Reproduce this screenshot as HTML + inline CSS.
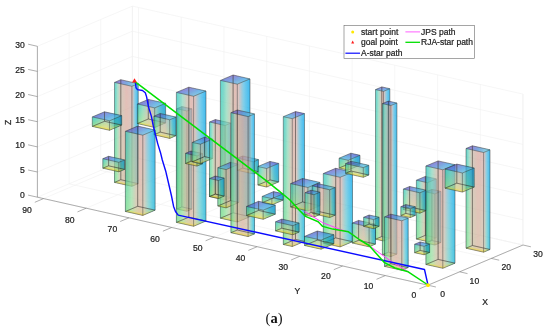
<!DOCTYPE html>
<html><head><meta charset="utf-8"><title>Figure (a)</title>
<style>
html,body{margin:0;padding:0;background:#fff;}
body{width:550px;height:330px;overflow:hidden;}
svg{display:block;font-family:"Liberation Sans",sans-serif;}
</style></head><body>
<svg width="550" height="330" viewBox="0 0 550 330">
<defs>
<linearGradient id="h0" gradientUnits="userSpaceOnUse" x1="114.5" y1="0.0" x2="138.2" y2="0.0"><stop offset="0.000" stop-color="#5edcd8"/><stop offset="0.133" stop-color="#b4e6d8"/><stop offset="0.218" stop-color="#dad6ca"/><stop offset="0.500" stop-color="#e9c8c3"/><stop offset="0.761" stop-color="#e3cdcc"/><stop offset="0.867" stop-color="#88d6f0"/><stop offset="1.000" stop-color="#34c4f6"/></linearGradient><linearGradient id="v0" gradientUnits="userSpaceOnUse" x1="114.5" y1="0.0" x2="138.2" y2="0.0"><stop offset="0.000" stop-color="#98e8a8"/><stop offset="0.133" stop-color="#c0ecc0"/><stop offset="0.218" stop-color="#dcdac4"/><stop offset="0.500" stop-color="#e6d0c0"/><stop offset="0.761" stop-color="#dedac8"/><stop offset="0.867" stop-color="#9ce0de"/><stop offset="1.000" stop-color="#44d0ea"/></linearGradient><linearGradient id="mg0" gradientUnits="userSpaceOnUse" x1="0.0" y1="83.4" x2="0.0" y2="184.4"><stop offset="0.000" stop-color="#000"/><stop offset="1.000" stop-color="#fff"/></linearGradient><mask id="mk0" maskUnits="userSpaceOnUse" x="113.5" y="78.7" width="25.7" height="108.6"><rect x="113.5" y="78.7" width="25.7" height="108.6" fill="url(#mg0)"/></mask><linearGradient id="t0" gradientUnits="userSpaceOnUse" x1="120.8" y1="79.7" x2="131.9" y2="88.3"><stop offset="0.000" stop-color="#8c7ee4"/><stop offset="0.500" stop-color="#6cb4f0"/><stop offset="1.000" stop-color="#86dcec"/></linearGradient><linearGradient id="b0" gradientUnits="userSpaceOnUse" x1="0.0" y1="186.3" x2="0.0" y2="179.7"><stop offset="0.000" stop-color="#f6e354" stop-opacity="0.95"/><stop offset="0.450" stop-color="#f0e468" stop-opacity="0.6"/><stop offset="1.000" stop-color="#e0e880" stop-opacity="0.08"/></linearGradient>
<linearGradient id="h1" gradientUnits="userSpaceOnUse" x1="92.3" y1="0.0" x2="121.7" y2="0.0"><stop offset="0.000" stop-color="#52d9d1"/><stop offset="0.207" stop-color="#82ded1"/><stop offset="0.340" stop-color="#9ddbd1"/><stop offset="0.500" stop-color="#b0d8d3"/><stop offset="0.627" stop-color="#88d6db"/><stop offset="0.793" stop-color="#3fc1e3"/><stop offset="1.000" stop-color="#1db1e5"/></linearGradient><linearGradient id="v1" gradientUnits="userSpaceOnUse" x1="92.3" y1="0.0" x2="121.7" y2="0.0"><stop offset="0.000" stop-color="#b2e894"/><stop offset="0.207" stop-color="#cdec98"/><stop offset="0.340" stop-color="#e1eaa1"/><stop offset="0.500" stop-color="#e8e7ab"/><stop offset="0.627" stop-color="#b2e0b9"/><stop offset="0.793" stop-color="#57cdc1"/><stop offset="1.000" stop-color="#38c1c5"/></linearGradient><linearGradient id="mg1" gradientUnits="userSpaceOnUse" x1="0.0" y1="117.9" x2="0.0" y2="128.4"><stop offset="0.000" stop-color="#000"/><stop offset="1.000" stop-color="#fff"/></linearGradient><mask id="mk1" maskUnits="userSpaceOnUse" x="91.3" y="110.8" width="31.4" height="20.5"><rect x="91.3" y="110.8" width="31.4" height="20.5" fill="url(#mg1)"/></mask><linearGradient id="t1" gradientUnits="userSpaceOnUse" x1="104.5" y1="111.8" x2="109.5" y2="122.8"><stop offset="0.000" stop-color="#8c7ee4"/><stop offset="0.500" stop-color="#6cb4f0"/><stop offset="1.000" stop-color="#86dcec"/></linearGradient><linearGradient id="b1" gradientUnits="userSpaceOnUse" x1="0.0" y1="130.3" x2="0.0" y2="121.3"><stop offset="0.000" stop-color="#f6e354" stop-opacity="0.95"/><stop offset="0.450" stop-color="#f0e468" stop-opacity="0.6"/><stop offset="1.000" stop-color="#e0e880" stop-opacity="0.08"/></linearGradient>
<linearGradient id="h2" gradientUnits="userSpaceOnUse" x1="102.8" y1="0.0" x2="124.6" y2="0.0"><stop offset="0.000" stop-color="#52d9d1"/><stop offset="0.133" stop-color="#82ded1"/><stop offset="0.218" stop-color="#9ddbd1"/><stop offset="0.500" stop-color="#b0d8d3"/><stop offset="0.761" stop-color="#88d6db"/><stop offset="0.867" stop-color="#3fc1e3"/><stop offset="1.000" stop-color="#1db1e5"/></linearGradient><linearGradient id="v2" gradientUnits="userSpaceOnUse" x1="102.8" y1="0.0" x2="124.6" y2="0.0"><stop offset="0.000" stop-color="#b2e894"/><stop offset="0.133" stop-color="#cdec98"/><stop offset="0.218" stop-color="#e1eaa1"/><stop offset="0.500" stop-color="#e8e7ab"/><stop offset="0.761" stop-color="#b2e0b9"/><stop offset="0.867" stop-color="#57cdc1"/><stop offset="1.000" stop-color="#38c1c5"/></linearGradient><linearGradient id="mg2" gradientUnits="userSpaceOnUse" x1="0.0" y1="159.7" x2="0.0" y2="170.2"><stop offset="0.000" stop-color="#000"/><stop offset="1.000" stop-color="#fff"/></linearGradient><mask id="mk2" maskUnits="userSpaceOnUse" x="101.8" y="155.3" width="23.8" height="17.6"><rect x="101.8" y="155.3" width="23.8" height="17.6" fill="url(#mg2)"/></mask><linearGradient id="t2" gradientUnits="userSpaceOnUse" x1="108.6" y1="156.3" x2="118.8" y2="164.3"><stop offset="0.000" stop-color="#8c7ee4"/><stop offset="0.500" stop-color="#6cb4f0"/><stop offset="1.000" stop-color="#86dcec"/></linearGradient><linearGradient id="b2" gradientUnits="userSpaceOnUse" x1="0.0" y1="171.8" x2="0.0" y2="165.8"><stop offset="0.000" stop-color="#f6e354" stop-opacity="0.95"/><stop offset="0.450" stop-color="#f0e468" stop-opacity="0.6"/><stop offset="1.000" stop-color="#e0e880" stop-opacity="0.08"/></linearGradient>
<linearGradient id="h3" gradientUnits="userSpaceOnUse" x1="137.4" y1="0.0" x2="165.6" y2="0.0"><stop offset="0.000" stop-color="#5adbd5"/><stop offset="0.193" stop-color="#a1e3d5"/><stop offset="0.317" stop-color="#c2d8cd"/><stop offset="0.500" stop-color="#d3cec9"/><stop offset="0.652" stop-color="#a0d3d7"/><stop offset="0.807" stop-color="#52c6e6"/><stop offset="1.000" stop-color="#23b6e9"/></linearGradient><linearGradient id="v3" gradientUnits="userSpaceOnUse" x1="137.4" y1="0.0" x2="165.6" y2="0.0"><stop offset="0.000" stop-color="#a2e8a0"/><stop offset="0.193" stop-color="#c5ecb1"/><stop offset="0.317" stop-color="#dee0b7"/><stop offset="0.500" stop-color="#e7d9b8"/><stop offset="0.652" stop-color="#bddebd"/><stop offset="0.807" stop-color="#69d2c9"/><stop offset="1.000" stop-color="#3bc5cf"/></linearGradient><linearGradient id="mg3" gradientUnits="userSpaceOnUse" x1="0.0" y1="105.0" x2="0.0" y2="125.6"><stop offset="0.000" stop-color="#000"/><stop offset="1.000" stop-color="#fff"/></linearGradient><mask id="mk3" maskUnits="userSpaceOnUse" x="136.4" y="98.4" width="30.2" height="30.1"><rect x="136.4" y="98.4" width="30.2" height="30.1" fill="url(#mg3)"/></mask><linearGradient id="t3" gradientUnits="userSpaceOnUse" x1="148.3" y1="99.4" x2="154.7" y2="109.9"><stop offset="0.000" stop-color="#8c7ee4"/><stop offset="0.500" stop-color="#6cb4f0"/><stop offset="1.000" stop-color="#86dcec"/></linearGradient><linearGradient id="b3" gradientUnits="userSpaceOnUse" x1="0.0" y1="127.5" x2="0.0" y2="119.0"><stop offset="0.000" stop-color="#f6e354" stop-opacity="0.95"/><stop offset="0.450" stop-color="#f0e468" stop-opacity="0.6"/><stop offset="1.000" stop-color="#e0e880" stop-opacity="0.08"/></linearGradient>
<linearGradient id="h4" gradientUnits="userSpaceOnUse" x1="153.9" y1="0.0" x2="176.0" y2="0.0"><stop offset="0.000" stop-color="#59dbd5"/><stop offset="0.143" stop-color="#9ee2d5"/><stop offset="0.234" stop-color="#bfd8cd"/><stop offset="0.500" stop-color="#cfcfca"/><stop offset="0.743" stop-color="#9dd4d8"/><stop offset="0.857" stop-color="#50c6e6"/><stop offset="1.000" stop-color="#22b5e9"/></linearGradient><linearGradient id="v4" gradientUnits="userSpaceOnUse" x1="153.9" y1="0.0" x2="176.0" y2="0.0"><stop offset="0.000" stop-color="#a4e89f"/><stop offset="0.143" stop-color="#c6ecae"/><stop offset="0.234" stop-color="#dee1b4"/><stop offset="0.500" stop-color="#e7dab6"/><stop offset="0.743" stop-color="#bcdebc"/><stop offset="0.857" stop-color="#67d1c8"/><stop offset="1.000" stop-color="#3bc4ce"/></linearGradient><linearGradient id="mg4" gradientUnits="userSpaceOnUse" x1="0.0" y1="117.2" x2="0.0" y2="136.8"><stop offset="0.000" stop-color="#000"/><stop offset="1.000" stop-color="#fff"/></linearGradient><mask id="mk4" maskUnits="userSpaceOnUse" x="152.9" y="112.5" width="24.1" height="26.8"><rect x="152.9" y="112.5" width="24.1" height="26.8" fill="url(#mg4)"/></mask><linearGradient id="t4" gradientUnits="userSpaceOnUse" x1="160.2" y1="113.5" x2="169.7" y2="121.8"><stop offset="0.000" stop-color="#8c7ee4"/><stop offset="0.500" stop-color="#6cb4f0"/><stop offset="1.000" stop-color="#86dcec"/></linearGradient><linearGradient id="b4" gradientUnits="userSpaceOnUse" x1="0.0" y1="138.4" x2="0.0" y2="132.1"><stop offset="0.000" stop-color="#f6e354" stop-opacity="0.95"/><stop offset="0.450" stop-color="#f0e468" stop-opacity="0.6"/><stop offset="1.000" stop-color="#e0e880" stop-opacity="0.08"/></linearGradient>
<linearGradient id="h5" gradientUnits="userSpaceOnUse" x1="125.4" y1="0.0" x2="155.1" y2="0.0"><stop offset="0.000" stop-color="#5edcd8"/><stop offset="0.207" stop-color="#b4e6d8"/><stop offset="0.340" stop-color="#dad6ca"/><stop offset="0.500" stop-color="#e9c8c3"/><stop offset="0.627" stop-color="#e3cdcc"/><stop offset="0.793" stop-color="#88d6f0"/><stop offset="1.000" stop-color="#34c4f6"/></linearGradient><linearGradient id="v5" gradientUnits="userSpaceOnUse" x1="125.4" y1="0.0" x2="155.1" y2="0.0"><stop offset="0.000" stop-color="#98e8a8"/><stop offset="0.207" stop-color="#c0ecc0"/><stop offset="0.340" stop-color="#dcdac4"/><stop offset="0.500" stop-color="#e6d0c0"/><stop offset="0.627" stop-color="#dedac8"/><stop offset="0.793" stop-color="#9ce0de"/><stop offset="1.000" stop-color="#44d0ea"/></linearGradient><linearGradient id="mg5" gradientUnits="userSpaceOnUse" x1="0.0" y1="132.3" x2="0.0" y2="213.5"><stop offset="0.000" stop-color="#000"/><stop offset="1.000" stop-color="#fff"/></linearGradient><mask id="mk5" maskUnits="userSpaceOnUse" x="124.4" y="125.1" width="31.7" height="91.3"><rect x="124.4" y="125.1" width="31.7" height="91.3" fill="url(#mg5)"/></mask><linearGradient id="t5" gradientUnits="userSpaceOnUse" x1="137.7" y1="126.1" x2="142.8" y2="137.2"><stop offset="0.000" stop-color="#8c7ee4"/><stop offset="0.500" stop-color="#6cb4f0"/><stop offset="1.000" stop-color="#86dcec"/></linearGradient><linearGradient id="b5" gradientUnits="userSpaceOnUse" x1="0.0" y1="215.4" x2="0.0" y2="206.3"><stop offset="0.000" stop-color="#f6e354" stop-opacity="0.95"/><stop offset="0.450" stop-color="#f0e468" stop-opacity="0.6"/><stop offset="1.000" stop-color="#e0e880" stop-opacity="0.08"/></linearGradient>
<linearGradient id="h6" gradientUnits="userSpaceOnUse" x1="176.9" y1="0.0" x2="191.9" y2="0.0"><stop offset="0.000" stop-color="#5edcd8"/><stop offset="0.167" stop-color="#b4e6d8"/><stop offset="0.273" stop-color="#dad6ca"/><stop offset="0.500" stop-color="#e9c8c3"/><stop offset="0.700" stop-color="#e3cdcc"/><stop offset="0.833" stop-color="#88d6f0"/><stop offset="1.000" stop-color="#34c4f6"/></linearGradient><linearGradient id="v6" gradientUnits="userSpaceOnUse" x1="176.9" y1="0.0" x2="191.9" y2="0.0"><stop offset="0.000" stop-color="#98e8a8"/><stop offset="0.167" stop-color="#c0ecc0"/><stop offset="0.273" stop-color="#dcdac4"/><stop offset="0.500" stop-color="#e6d0c0"/><stop offset="0.700" stop-color="#dedac8"/><stop offset="0.833" stop-color="#9ce0de"/><stop offset="1.000" stop-color="#44d0ea"/></linearGradient><linearGradient id="mg6" gradientUnits="userSpaceOnUse" x1="0.0" y1="109.7" x2="0.0" y2="211.0"><stop offset="0.000" stop-color="#000"/><stop offset="1.000" stop-color="#fff"/></linearGradient><mask id="mk6" maskUnits="userSpaceOnUse" x="175.9" y="105.6" width="17.0" height="106.7"><rect x="175.9" y="105.6" width="17.0" height="106.7" fill="url(#mg6)"/></mask><linearGradient id="t6" gradientUnits="userSpaceOnUse" x1="181.9" y1="106.6" x2="186.9" y2="113.0"><stop offset="0.000" stop-color="#8c7ee4"/><stop offset="0.500" stop-color="#6cb4f0"/><stop offset="1.000" stop-color="#86dcec"/></linearGradient><linearGradient id="b6" gradientUnits="userSpaceOnUse" x1="0.0" y1="211.3" x2="0.0" y2="206.9"><stop offset="0.000" stop-color="#f6e354" stop-opacity="0.95"/><stop offset="0.450" stop-color="#f0e468" stop-opacity="0.6"/><stop offset="1.000" stop-color="#e0e880" stop-opacity="0.08"/></linearGradient>
<linearGradient id="h7" gradientUnits="userSpaceOnUse" x1="176.4" y1="0.0" x2="206.0" y2="0.0"><stop offset="0.000" stop-color="#5edcd8"/><stop offset="0.209" stop-color="#b4e6d8"/><stop offset="0.344" stop-color="#dad6ca"/><stop offset="0.500" stop-color="#e9c8c3"/><stop offset="0.623" stop-color="#e3cdcc"/><stop offset="0.791" stop-color="#88d6f0"/><stop offset="1.000" stop-color="#34c4f6"/></linearGradient><linearGradient id="v7" gradientUnits="userSpaceOnUse" x1="176.4" y1="0.0" x2="206.0" y2="0.0"><stop offset="0.000" stop-color="#98e8a8"/><stop offset="0.209" stop-color="#c0ecc0"/><stop offset="0.344" stop-color="#dcdac4"/><stop offset="0.500" stop-color="#e6d0c0"/><stop offset="0.623" stop-color="#dedac8"/><stop offset="0.791" stop-color="#9ce0de"/><stop offset="1.000" stop-color="#44d0ea"/></linearGradient><linearGradient id="mg7" gradientUnits="userSpaceOnUse" x1="0.0" y1="93.4" x2="0.0" y2="224.4"><stop offset="0.000" stop-color="#000"/><stop offset="1.000" stop-color="#fff"/></linearGradient><mask id="mk7" maskUnits="userSpaceOnUse" x="175.4" y="86.2" width="31.6" height="141.1"><rect x="175.4" y="86.2" width="31.6" height="141.1" fill="url(#mg7)"/></mask><linearGradient id="t7" gradientUnits="userSpaceOnUse" x1="188.8" y1="87.2" x2="193.6" y2="98.3"><stop offset="0.000" stop-color="#8c7ee4"/><stop offset="0.500" stop-color="#6cb4f0"/><stop offset="1.000" stop-color="#86dcec"/></linearGradient><linearGradient id="b7" gradientUnits="userSpaceOnUse" x1="0.0" y1="226.3" x2="0.0" y2="217.2"><stop offset="0.000" stop-color="#f6e354" stop-opacity="0.95"/><stop offset="0.450" stop-color="#f0e468" stop-opacity="0.6"/><stop offset="1.000" stop-color="#e0e880" stop-opacity="0.08"/></linearGradient>
<linearGradient id="h8" gradientUnits="userSpaceOnUse" x1="185.5" y1="0.0" x2="202.5" y2="0.0"><stop offset="0.000" stop-color="#53d9d2"/><stop offset="0.162" stop-color="#85ded2"/><stop offset="0.265" stop-color="#a0dbd0"/><stop offset="0.500" stop-color="#b2d8d2"/><stop offset="0.709" stop-color="#89d6db"/><stop offset="0.838" stop-color="#40c1e3"/><stop offset="1.000" stop-color="#1db1e5"/></linearGradient><linearGradient id="v8" gradientUnits="userSpaceOnUse" x1="185.5" y1="0.0" x2="202.5" y2="0.0"><stop offset="0.000" stop-color="#b1e895"/><stop offset="0.162" stop-color="#cdec9a"/><stop offset="0.265" stop-color="#e1eaa3"/><stop offset="0.500" stop-color="#e8e6ab"/><stop offset="0.709" stop-color="#b3e0b9"/><stop offset="0.838" stop-color="#58cdc2"/><stop offset="1.000" stop-color="#39c1c6"/></linearGradient><linearGradient id="mg8" gradientUnits="userSpaceOnUse" x1="0.0" y1="154.3" x2="0.0" y2="165.5"><stop offset="0.000" stop-color="#000"/><stop offset="1.000" stop-color="#fff"/></linearGradient><mask id="mk8" maskUnits="userSpaceOnUse" x="184.5" y="150.0" width="19.0" height="17.1"><rect x="184.5" y="150.0" width="19.0" height="17.1" fill="url(#mg8)"/></mask><linearGradient id="t8" gradientUnits="userSpaceOnUse" x1="191.0" y1="151.0" x2="197.0" y2="157.9"><stop offset="0.000" stop-color="#8c7ee4"/><stop offset="0.500" stop-color="#6cb4f0"/><stop offset="1.000" stop-color="#86dcec"/></linearGradient><linearGradient id="b8" gradientUnits="userSpaceOnUse" x1="0.0" y1="166.1" x2="0.0" y2="161.2"><stop offset="0.000" stop-color="#f6e354" stop-opacity="0.95"/><stop offset="0.450" stop-color="#f0e468" stop-opacity="0.6"/><stop offset="1.000" stop-color="#e0e880" stop-opacity="0.08"/></linearGradient>
<linearGradient id="h9" gradientUnits="userSpaceOnUse" x1="192.2" y1="0.0" x2="212.7" y2="0.0"><stop offset="0.000" stop-color="#59dbd5"/><stop offset="0.200" stop-color="#a0e3d5"/><stop offset="0.328" stop-color="#c2d8cd"/><stop offset="0.500" stop-color="#d2cfc9"/><stop offset="0.640" stop-color="#9fd3d7"/><stop offset="0.800" stop-color="#52c6e6"/><stop offset="1.000" stop-color="#23b6e9"/></linearGradient><linearGradient id="v9" gradientUnits="userSpaceOnUse" x1="192.2" y1="0.0" x2="212.7" y2="0.0"><stop offset="0.000" stop-color="#a3e8a0"/><stop offset="0.200" stop-color="#c5ecb0"/><stop offset="0.328" stop-color="#dee1b6"/><stop offset="0.500" stop-color="#e7d9b7"/><stop offset="0.640" stop-color="#bddebd"/><stop offset="0.800" stop-color="#69d2c9"/><stop offset="1.000" stop-color="#3bc5cf"/></linearGradient><linearGradient id="mg9" gradientUnits="userSpaceOnUse" x1="0.0" y1="143.4" x2="0.0" y2="163.8"><stop offset="0.000" stop-color="#000"/><stop offset="1.000" stop-color="#fff"/></linearGradient><mask id="mk9" maskUnits="userSpaceOnUse" x="191.2" y="136.2" width="22.5" height="28.4"><rect x="191.2" y="136.2" width="22.5" height="28.4" fill="url(#mg9)"/></mask><linearGradient id="t9" gradientUnits="userSpaceOnUse" x1="204.5" y1="137.2" x2="200.4" y2="146.2"><stop offset="0.000" stop-color="#8c7ee4"/><stop offset="0.500" stop-color="#6cb4f0"/><stop offset="1.000" stop-color="#86dcec"/></linearGradient><linearGradient id="b9" gradientUnits="userSpaceOnUse" x1="0.0" y1="163.6" x2="0.0" y2="156.6"><stop offset="0.000" stop-color="#f6e354" stop-opacity="0.95"/><stop offset="0.450" stop-color="#f0e468" stop-opacity="0.6"/><stop offset="1.000" stop-color="#e0e880" stop-opacity="0.08"/></linearGradient>
<linearGradient id="h10" gradientUnits="userSpaceOnUse" x1="209.5" y1="0.0" x2="230.9" y2="0.0"><stop offset="0.000" stop-color="#5edcd8"/><stop offset="0.136" stop-color="#b4e6d8"/><stop offset="0.222" stop-color="#dad6ca"/><stop offset="0.500" stop-color="#e9c8c3"/><stop offset="0.756" stop-color="#e3cdcc"/><stop offset="0.864" stop-color="#88d6f0"/><stop offset="1.000" stop-color="#34c4f6"/></linearGradient><linearGradient id="v10" gradientUnits="userSpaceOnUse" x1="209.5" y1="0.0" x2="230.9" y2="0.0"><stop offset="0.000" stop-color="#98e8a8"/><stop offset="0.136" stop-color="#c0ecc0"/><stop offset="0.222" stop-color="#dcdac4"/><stop offset="0.500" stop-color="#e6d0c0"/><stop offset="0.756" stop-color="#dedac8"/><stop offset="0.864" stop-color="#9ce0de"/><stop offset="1.000" stop-color="#44d0ea"/></linearGradient><linearGradient id="mg10" gradientUnits="userSpaceOnUse" x1="0.0" y1="123.0" x2="0.0" y2="198.5"><stop offset="0.000" stop-color="#000"/><stop offset="1.000" stop-color="#fff"/></linearGradient><mask id="mk10" maskUnits="userSpaceOnUse" x="208.5" y="118.6" width="23.4" height="82.5"><rect x="208.5" y="118.6" width="23.4" height="82.5" fill="url(#mg10)"/></mask><linearGradient id="t10" gradientUnits="userSpaceOnUse" x1="215.3" y1="119.6" x2="225.1" y2="127.5"><stop offset="0.000" stop-color="#8c7ee4"/><stop offset="0.500" stop-color="#6cb4f0"/><stop offset="1.000" stop-color="#86dcec"/></linearGradient><linearGradient id="b10" gradientUnits="userSpaceOnUse" x1="0.0" y1="200.0" x2="0.0" y2="194.1"><stop offset="0.000" stop-color="#f6e354" stop-opacity="0.95"/><stop offset="0.450" stop-color="#f0e468" stop-opacity="0.6"/><stop offset="1.000" stop-color="#e0e880" stop-opacity="0.08"/></linearGradient>
<linearGradient id="h11" gradientUnits="userSpaceOnUse" x1="220.4" y1="0.0" x2="250.0" y2="0.0"><stop offset="0.000" stop-color="#5edcd8"/><stop offset="0.215" stop-color="#b4e6d8"/><stop offset="0.352" stop-color="#dad6ca"/><stop offset="0.500" stop-color="#e9c8c3"/><stop offset="0.614" stop-color="#e3cdcc"/><stop offset="0.785" stop-color="#88d6f0"/><stop offset="1.000" stop-color="#34c4f6"/></linearGradient><linearGradient id="v11" gradientUnits="userSpaceOnUse" x1="220.4" y1="0.0" x2="250.0" y2="0.0"><stop offset="0.000" stop-color="#98e8a8"/><stop offset="0.215" stop-color="#c0ecc0"/><stop offset="0.352" stop-color="#dcdac4"/><stop offset="0.500" stop-color="#e6d0c0"/><stop offset="0.614" stop-color="#dedac8"/><stop offset="0.785" stop-color="#9ce0de"/><stop offset="1.000" stop-color="#44d0ea"/></linearGradient><linearGradient id="mg11" gradientUnits="userSpaceOnUse" x1="0.0" y1="81.4" x2="0.0" y2="220.2"><stop offset="0.000" stop-color="#000"/><stop offset="1.000" stop-color="#fff"/></linearGradient><mask id="mk11" maskUnits="userSpaceOnUse" x="219.4" y="74.0" width="31.6" height="149.0"><rect x="219.4" y="74.0" width="31.6" height="149.0" fill="url(#mg11)"/></mask><linearGradient id="t11" gradientUnits="userSpaceOnUse" x1="233.1" y1="75.0" x2="237.3" y2="86.2"><stop offset="0.000" stop-color="#8c7ee4"/><stop offset="0.500" stop-color="#6cb4f0"/><stop offset="1.000" stop-color="#86dcec"/></linearGradient><linearGradient id="b11" gradientUnits="userSpaceOnUse" x1="0.0" y1="222.0" x2="0.0" y2="212.8"><stop offset="0.000" stop-color="#f6e354" stop-opacity="0.95"/><stop offset="0.450" stop-color="#f0e468" stop-opacity="0.6"/><stop offset="1.000" stop-color="#e0e880" stop-opacity="0.08"/></linearGradient>
<linearGradient id="h12" gradientUnits="userSpaceOnUse" x1="217.8" y1="0.0" x2="238.8" y2="0.0"><stop offset="0.000" stop-color="#5edcd8"/><stop offset="0.198" stop-color="#b4e6d8"/><stop offset="0.324" stop-color="#dad6ca"/><stop offset="0.500" stop-color="#e9c8c3"/><stop offset="0.644" stop-color="#cccfd0"/><stop offset="0.802" stop-color="#76d1ed"/><stop offset="1.000" stop-color="#2ebff2"/></linearGradient><linearGradient id="v12" gradientUnits="userSpaceOnUse" x1="217.8" y1="0.0" x2="238.8" y2="0.0"><stop offset="0.000" stop-color="#98e8a8"/><stop offset="0.198" stop-color="#c0ecc0"/><stop offset="0.324" stop-color="#dcdac4"/><stop offset="0.500" stop-color="#e6d0c0"/><stop offset="0.644" stop-color="#d3dbc4"/><stop offset="0.802" stop-color="#8bdbd7"/><stop offset="1.000" stop-color="#41cce1"/></linearGradient><linearGradient id="mg12" gradientUnits="userSpaceOnUse" x1="0.0" y1="168.7" x2="0.0" y2="208.0"><stop offset="0.000" stop-color="#000"/><stop offset="1.000" stop-color="#fff"/></linearGradient><mask id="mk12" maskUnits="userSpaceOnUse" x="216.8" y="161.3" width="23.0" height="47.5"><rect x="216.8" y="161.3" width="23.0" height="47.5" fill="url(#mg12)"/></mask><linearGradient id="t12" gradientUnits="userSpaceOnUse" x1="230.5" y1="162.3" x2="226.1" y2="171.6"><stop offset="0.000" stop-color="#8c7ee4"/><stop offset="0.500" stop-color="#6cb4f0"/><stop offset="1.000" stop-color="#86dcec"/></linearGradient><linearGradient id="b12" gradientUnits="userSpaceOnUse" x1="0.0" y1="207.9" x2="0.0" y2="200.6"><stop offset="0.000" stop-color="#f6e354" stop-opacity="0.95"/><stop offset="0.450" stop-color="#f0e468" stop-opacity="0.6"/><stop offset="1.000" stop-color="#e0e880" stop-opacity="0.08"/></linearGradient>
<linearGradient id="h13" gradientUnits="userSpaceOnUse" x1="209.5" y1="0.0" x2="224.2" y2="0.0"><stop offset="0.000" stop-color="#58dad5"/><stop offset="0.197" stop-color="#9ce2d5"/><stop offset="0.324" stop-color="#bcd8cd"/><stop offset="0.500" stop-color="#cdd0cb"/><stop offset="0.645" stop-color="#9cd4d8"/><stop offset="0.803" stop-color="#4fc6e6"/><stop offset="1.000" stop-color="#22b5e8"/></linearGradient><linearGradient id="v13" gradientUnits="userSpaceOnUse" x1="209.5" y1="0.0" x2="224.2" y2="0.0"><stop offset="0.000" stop-color="#a5e89e"/><stop offset="0.197" stop-color="#c6ecad"/><stop offset="0.324" stop-color="#dee2b3"/><stop offset="0.500" stop-color="#e7dbb6"/><stop offset="0.645" stop-color="#bcdebc"/><stop offset="0.803" stop-color="#66d1c8"/><stop offset="1.000" stop-color="#3bc4ce"/></linearGradient><linearGradient id="mg13" gradientUnits="userSpaceOnUse" x1="0.0" y1="179.5" x2="0.0" y2="198.5"><stop offset="0.000" stop-color="#000"/><stop offset="1.000" stop-color="#fff"/></linearGradient><mask id="mk13" maskUnits="userSpaceOnUse" x="208.5" y="175.1" width="16.7" height="24.5"><rect x="208.5" y="175.1" width="16.7" height="24.5" fill="url(#mg13)"/></mask><linearGradient id="t13" gradientUnits="userSpaceOnUse" x1="215.3" y1="176.1" x2="218.4" y2="182.5"><stop offset="0.000" stop-color="#8c7ee4"/><stop offset="0.500" stop-color="#6cb4f0"/><stop offset="1.000" stop-color="#86dcec"/></linearGradient><linearGradient id="b13" gradientUnits="userSpaceOnUse" x1="0.0" y1="198.5" x2="0.0" y2="194.1"><stop offset="0.000" stop-color="#f6e354" stop-opacity="0.95"/><stop offset="0.450" stop-color="#f0e468" stop-opacity="0.6"/><stop offset="1.000" stop-color="#e0e880" stop-opacity="0.08"/></linearGradient>
<linearGradient id="h14" gradientUnits="userSpaceOnUse" x1="237.5" y1="0.0" x2="258.5" y2="0.0"><stop offset="0.000" stop-color="#54d9d2"/><stop offset="0.124" stop-color="#8adfd2"/><stop offset="0.203" stop-color="#a7dad0"/><stop offset="0.500" stop-color="#b9d6d0"/><stop offset="0.777" stop-color="#8ed5da"/><stop offset="0.876" stop-color="#44c2e3"/><stop offset="1.000" stop-color="#1eb2e6"/></linearGradient><linearGradient id="v14" gradientUnits="userSpaceOnUse" x1="237.5" y1="0.0" x2="258.5" y2="0.0"><stop offset="0.000" stop-color="#aee897"/><stop offset="0.124" stop-color="#cbec9f"/><stop offset="0.203" stop-color="#e0e8a7"/><stop offset="0.500" stop-color="#e7e3ae"/><stop offset="0.777" stop-color="#b5dfba"/><stop offset="0.876" stop-color="#5bcec3"/><stop offset="1.000" stop-color="#39c2c8"/></linearGradient><linearGradient id="mg14" gradientUnits="userSpaceOnUse" x1="0.0" y1="159.2" x2="0.0" y2="172.3"><stop offset="0.000" stop-color="#000"/><stop offset="1.000" stop-color="#fff"/></linearGradient><mask id="mk14" maskUnits="userSpaceOnUse" x="236.5" y="155.0" width="23.0" height="19.9"><rect x="236.5" y="155.0" width="23.0" height="19.9" fill="url(#mg14)"/></mask><linearGradient id="t14" gradientUnits="userSpaceOnUse" x1="242.7" y1="156.0" x2="253.3" y2="163.8"><stop offset="0.000" stop-color="#8c7ee4"/><stop offset="0.500" stop-color="#6cb4f0"/><stop offset="1.000" stop-color="#86dcec"/></linearGradient><linearGradient id="b14" gradientUnits="userSpaceOnUse" x1="0.0" y1="173.9" x2="0.0" y2="168.1"><stop offset="0.000" stop-color="#f6e354" stop-opacity="0.95"/><stop offset="0.450" stop-color="#f0e468" stop-opacity="0.6"/><stop offset="1.000" stop-color="#e0e880" stop-opacity="0.08"/></linearGradient>
<linearGradient id="h15" gradientUnits="userSpaceOnUse" x1="230.9" y1="0.0" x2="254.5" y2="0.0"><stop offset="0.000" stop-color="#5edcd8"/><stop offset="0.136" stop-color="#b4e6d8"/><stop offset="0.222" stop-color="#dad6ca"/><stop offset="0.500" stop-color="#e9c8c3"/><stop offset="0.756" stop-color="#e3cdcc"/><stop offset="0.864" stop-color="#88d6f0"/><stop offset="1.000" stop-color="#34c4f6"/></linearGradient><linearGradient id="v15" gradientUnits="userSpaceOnUse" x1="230.9" y1="0.0" x2="254.5" y2="0.0"><stop offset="0.000" stop-color="#98e8a8"/><stop offset="0.136" stop-color="#c0ecc0"/><stop offset="0.222" stop-color="#dcdac4"/><stop offset="0.500" stop-color="#e6d0c0"/><stop offset="0.756" stop-color="#dedac8"/><stop offset="0.864" stop-color="#9ce0de"/><stop offset="1.000" stop-color="#44d0ea"/></linearGradient><linearGradient id="mg15" gradientUnits="userSpaceOnUse" x1="0.0" y1="113.7" x2="0.0" y2="234.7"><stop offset="0.000" stop-color="#000"/><stop offset="1.000" stop-color="#fff"/></linearGradient><mask id="mk15" maskUnits="userSpaceOnUse" x="229.9" y="109.0" width="25.6" height="128.6"><rect x="229.9" y="109.0" width="25.6" height="128.6" fill="url(#mg15)"/></mask><linearGradient id="t15" gradientUnits="userSpaceOnUse" x1="237.3" y1="110.0" x2="248.1" y2="118.6"><stop offset="0.000" stop-color="#8c7ee4"/><stop offset="0.500" stop-color="#6cb4f0"/><stop offset="1.000" stop-color="#86dcec"/></linearGradient><linearGradient id="b15" gradientUnits="userSpaceOnUse" x1="0.0" y1="236.6" x2="0.0" y2="230.0"><stop offset="0.000" stop-color="#f6e354" stop-opacity="0.95"/><stop offset="0.450" stop-color="#f0e468" stop-opacity="0.6"/><stop offset="1.000" stop-color="#e0e880" stop-opacity="0.08"/></linearGradient>
<linearGradient id="h16" gradientUnits="userSpaceOnUse" x1="257.9" y1="0.0" x2="278.7" y2="0.0"><stop offset="0.000" stop-color="#59dad5"/><stop offset="0.209" stop-color="#9ee2d5"/><stop offset="0.343" stop-color="#bed8cd"/><stop offset="0.500" stop-color="#cfd0ca"/><stop offset="0.624" stop-color="#9dd4d8"/><stop offset="0.791" stop-color="#50c6e6"/><stop offset="1.000" stop-color="#22b5e9"/></linearGradient><linearGradient id="v16" gradientUnits="userSpaceOnUse" x1="257.9" y1="0.0" x2="278.7" y2="0.0"><stop offset="0.000" stop-color="#a4e89f"/><stop offset="0.209" stop-color="#c6ecae"/><stop offset="0.343" stop-color="#dee2b4"/><stop offset="0.500" stop-color="#e7dab6"/><stop offset="0.624" stop-color="#bcdebc"/><stop offset="0.791" stop-color="#67d1c8"/><stop offset="1.000" stop-color="#3bc4ce"/></linearGradient><linearGradient id="mg16" gradientUnits="userSpaceOnUse" x1="0.0" y1="167.5" x2="0.0" y2="187.0"><stop offset="0.000" stop-color="#000"/><stop offset="1.000" stop-color="#fff"/></linearGradient><mask id="mk16" maskUnits="userSpaceOnUse" x="256.9" y="160.4" width="22.8" height="27.6"><rect x="256.9" y="160.4" width="22.8" height="27.6" fill="url(#mg16)"/></mask><linearGradient id="t16" gradientUnits="userSpaceOnUse" x1="270.0" y1="161.4" x2="266.6" y2="170.5"><stop offset="0.000" stop-color="#8c7ee4"/><stop offset="0.500" stop-color="#6cb4f0"/><stop offset="1.000" stop-color="#86dcec"/></linearGradient><linearGradient id="b16" gradientUnits="userSpaceOnUse" x1="0.0" y1="187.0" x2="0.0" y2="179.9"><stop offset="0.000" stop-color="#f6e354" stop-opacity="0.95"/><stop offset="0.450" stop-color="#f0e468" stop-opacity="0.6"/><stop offset="1.000" stop-color="#e0e880" stop-opacity="0.08"/></linearGradient>
<linearGradient id="h17" gradientUnits="userSpaceOnUse" x1="262.2" y1="0.0" x2="283.3" y2="0.0"><stop offset="0.000" stop-color="#50d8d0"/><stop offset="0.230" stop-color="#79dcd0"/><stop offset="0.377" stop-color="#91dcd2"/><stop offset="0.500" stop-color="#a5dcd6"/><stop offset="0.586" stop-color="#84d6dc"/><stop offset="0.770" stop-color="#3cc0e2"/><stop offset="1.000" stop-color="#1cb0e4"/></linearGradient><linearGradient id="v17" gradientUnits="userSpaceOnUse" x1="262.2" y1="0.0" x2="283.3" y2="0.0"><stop offset="0.000" stop-color="#b8e890"/><stop offset="0.230" stop-color="#d0ec91"/><stop offset="0.377" stop-color="#e2ee9b"/><stop offset="0.500" stop-color="#e8eca6"/><stop offset="0.586" stop-color="#b0e0b8"/><stop offset="0.770" stop-color="#54ccc0"/><stop offset="1.000" stop-color="#38c0c4"/></linearGradient><linearGradient id="mg17" gradientUnits="userSpaceOnUse" x1="0.0" y1="197.4" x2="0.0" y2="204.7"><stop offset="0.000" stop-color="#000"/><stop offset="1.000" stop-color="#fff"/></linearGradient><mask id="mk17" maskUnits="userSpaceOnUse" x="261.2" y="190.6" width="23.1" height="15.3"><rect x="261.2" y="190.6" width="23.1" height="15.3" fill="url(#mg17)"/></mask><linearGradient id="t17" gradientUnits="userSpaceOnUse" x1="273.6" y1="191.6" x2="271.9" y2="200.6"><stop offset="0.000" stop-color="#8c7ee4"/><stop offset="0.500" stop-color="#6cb4f0"/><stop offset="1.000" stop-color="#86dcec"/></linearGradient><linearGradient id="b17" gradientUnits="userSpaceOnUse" x1="0.0" y1="204.9" x2="0.0" y2="197.9"><stop offset="0.000" stop-color="#f6e354" stop-opacity="0.95"/><stop offset="0.450" stop-color="#f0e468" stop-opacity="0.6"/><stop offset="1.000" stop-color="#e0e880" stop-opacity="0.08"/></linearGradient>
<linearGradient id="h18" gradientUnits="userSpaceOnUse" x1="246.5" y1="0.0" x2="275.3" y2="0.0"><stop offset="0.000" stop-color="#52d9d1"/><stop offset="0.210" stop-color="#81ded1"/><stop offset="0.345" stop-color="#9bdbd1"/><stop offset="0.500" stop-color="#afd9d3"/><stop offset="0.622" stop-color="#87d6dc"/><stop offset="0.790" stop-color="#3ec1e2"/><stop offset="1.000" stop-color="#1db1e4"/></linearGradient><linearGradient id="v18" gradientUnits="userSpaceOnUse" x1="246.5" y1="0.0" x2="275.3" y2="0.0"><stop offset="0.000" stop-color="#b3e894"/><stop offset="0.210" stop-color="#ceec97"/><stop offset="0.345" stop-color="#e1eba1"/><stop offset="0.500" stop-color="#e8e8aa"/><stop offset="0.622" stop-color="#b1e0b8"/><stop offset="0.790" stop-color="#56cdc1"/><stop offset="1.000" stop-color="#38c0c5"/></linearGradient><linearGradient id="mg18" gradientUnits="userSpaceOnUse" x1="0.0" y1="207.4" x2="0.0" y2="217.5"><stop offset="0.000" stop-color="#000"/><stop offset="1.000" stop-color="#fff"/></linearGradient><mask id="mk18" maskUnits="userSpaceOnUse" x="245.5" y="200.3" width="30.8" height="20.0"><rect x="245.5" y="200.3" width="30.8" height="20.0" fill="url(#mg18)"/></mask><linearGradient id="t18" gradientUnits="userSpaceOnUse" x1="258.6" y1="201.3" x2="263.2" y2="212.2"><stop offset="0.000" stop-color="#8c7ee4"/><stop offset="0.500" stop-color="#6cb4f0"/><stop offset="1.000" stop-color="#86dcec"/></linearGradient><linearGradient id="b18" gradientUnits="userSpaceOnUse" x1="0.0" y1="219.3" x2="0.0" y2="210.4"><stop offset="0.000" stop-color="#f6e354" stop-opacity="0.95"/><stop offset="0.450" stop-color="#f0e468" stop-opacity="0.6"/><stop offset="1.000" stop-color="#e0e880" stop-opacity="0.08"/></linearGradient>
<linearGradient id="h19" gradientUnits="userSpaceOnUse" x1="283.3" y1="0.0" x2="304.5" y2="0.0"><stop offset="0.000" stop-color="#5edcd8"/><stop offset="0.212" stop-color="#b4e6d8"/><stop offset="0.348" stop-color="#dad6ca"/><stop offset="0.500" stop-color="#e9c8c3"/><stop offset="0.618" stop-color="#e3cdcc"/><stop offset="0.788" stop-color="#88d6f0"/><stop offset="1.000" stop-color="#34c4f6"/></linearGradient><linearGradient id="v19" gradientUnits="userSpaceOnUse" x1="283.3" y1="0.0" x2="304.5" y2="0.0"><stop offset="0.000" stop-color="#98e8a8"/><stop offset="0.212" stop-color="#c0ecc0"/><stop offset="0.348" stop-color="#dcdac4"/><stop offset="0.500" stop-color="#e6d0c0"/><stop offset="0.618" stop-color="#dedac8"/><stop offset="0.788" stop-color="#9ce0de"/><stop offset="1.000" stop-color="#44d0ea"/></linearGradient><linearGradient id="mg19" gradientUnits="userSpaceOnUse" x1="0.0" y1="117.7" x2="0.0" y2="246.5"><stop offset="0.000" stop-color="#000"/><stop offset="1.000" stop-color="#fff"/></linearGradient><mask id="mk19" maskUnits="userSpaceOnUse" x="282.3" y="110.6" width="23.2" height="137.0"><rect x="282.3" y="110.6" width="23.2" height="137.0" fill="url(#mg19)"/></mask><linearGradient id="t19" gradientUnits="userSpaceOnUse" x1="295.5" y1="111.6" x2="292.3" y2="120.7"><stop offset="0.000" stop-color="#8c7ee4"/><stop offset="0.500" stop-color="#6cb4f0"/><stop offset="1.000" stop-color="#86dcec"/></linearGradient><linearGradient id="b19" gradientUnits="userSpaceOnUse" x1="0.0" y1="246.5" x2="0.0" y2="239.4"><stop offset="0.000" stop-color="#f6e354" stop-opacity="0.95"/><stop offset="0.450" stop-color="#f0e468" stop-opacity="0.6"/><stop offset="1.000" stop-color="#e0e880" stop-opacity="0.08"/></linearGradient>
<linearGradient id="h20" gradientUnits="userSpaceOnUse" x1="275.5" y1="0.0" x2="299.1" y2="0.0"><stop offset="0.000" stop-color="#52d9d1"/><stop offset="0.133" stop-color="#81ded1"/><stop offset="0.219" stop-color="#9bdbd1"/><stop offset="0.500" stop-color="#afd9d3"/><stop offset="0.760" stop-color="#87d6dc"/><stop offset="0.867" stop-color="#3ec1e2"/><stop offset="1.000" stop-color="#1db1e4"/></linearGradient><linearGradient id="v20" gradientUnits="userSpaceOnUse" x1="275.5" y1="0.0" x2="299.1" y2="0.0"><stop offset="0.000" stop-color="#b3e894"/><stop offset="0.133" stop-color="#ceec97"/><stop offset="0.219" stop-color="#e1eba1"/><stop offset="0.500" stop-color="#e8e8aa"/><stop offset="0.760" stop-color="#b1e0b8"/><stop offset="0.867" stop-color="#56cdc1"/><stop offset="1.000" stop-color="#38c0c5"/></linearGradient><linearGradient id="mg20" gradientUnits="userSpaceOnUse" x1="0.0" y1="222.8" x2="0.0" y2="232.9"><stop offset="0.000" stop-color="#000"/><stop offset="1.000" stop-color="#fff"/></linearGradient><mask id="mk20" maskUnits="userSpaceOnUse" x="274.5" y="218.1" width="25.6" height="17.7"><rect x="274.5" y="218.1" width="25.6" height="17.7" fill="url(#mg20)"/></mask><linearGradient id="t20" gradientUnits="userSpaceOnUse" x1="281.8" y1="219.1" x2="292.8" y2="227.7"><stop offset="0.000" stop-color="#8c7ee4"/><stop offset="0.500" stop-color="#6cb4f0"/><stop offset="1.000" stop-color="#86dcec"/></linearGradient><linearGradient id="b20" gradientUnits="userSpaceOnUse" x1="0.0" y1="234.8" x2="0.0" y2="228.2"><stop offset="0.000" stop-color="#f6e354" stop-opacity="0.95"/><stop offset="0.450" stop-color="#f0e468" stop-opacity="0.6"/><stop offset="1.000" stop-color="#e0e880" stop-opacity="0.08"/></linearGradient>
<linearGradient id="h21" gradientUnits="userSpaceOnUse" x1="323.3" y1="0.0" x2="352.5" y2="0.0"><stop offset="0.000" stop-color="#5edcd8"/><stop offset="0.212" stop-color="#b4e6d8"/><stop offset="0.348" stop-color="#dad6ca"/><stop offset="0.500" stop-color="#e9c8c3"/><stop offset="0.618" stop-color="#e3cdcc"/><stop offset="0.788" stop-color="#88d6f0"/><stop offset="1.000" stop-color="#34c4f6"/></linearGradient><linearGradient id="v21" gradientUnits="userSpaceOnUse" x1="323.3" y1="0.0" x2="352.5" y2="0.0"><stop offset="0.000" stop-color="#98e8a8"/><stop offset="0.212" stop-color="#c0ecc0"/><stop offset="0.348" stop-color="#dcdac4"/><stop offset="0.500" stop-color="#e6d0c0"/><stop offset="0.618" stop-color="#dedac8"/><stop offset="0.788" stop-color="#9ce0de"/><stop offset="1.000" stop-color="#44d0ea"/></linearGradient><linearGradient id="mg21" gradientUnits="userSpaceOnUse" x1="0.0" y1="174.5" x2="0.0" y2="245.1"><stop offset="0.000" stop-color="#000"/><stop offset="1.000" stop-color="#fff"/></linearGradient><mask id="mk21" maskUnits="userSpaceOnUse" x="322.3" y="167.3" width="31.2" height="80.6"><rect x="322.3" y="167.3" width="31.2" height="80.6" fill="url(#mg21)"/></mask><linearGradient id="t21" gradientUnits="userSpaceOnUse" x1="335.7" y1="168.3" x2="340.1" y2="179.3"><stop offset="0.000" stop-color="#8c7ee4"/><stop offset="0.500" stop-color="#6cb4f0"/><stop offset="1.000" stop-color="#86dcec"/></linearGradient><linearGradient id="b21" gradientUnits="userSpaceOnUse" x1="0.0" y1="246.9" x2="0.0" y2="237.9"><stop offset="0.000" stop-color="#f6e354" stop-opacity="0.95"/><stop offset="0.450" stop-color="#f0e468" stop-opacity="0.6"/><stop offset="1.000" stop-color="#e0e880" stop-opacity="0.08"/></linearGradient>
<linearGradient id="h22" gradientUnits="userSpaceOnUse" x1="290.6" y1="0.0" x2="319.9" y2="0.0"><stop offset="0.000" stop-color="#5cdbd7"/><stop offset="0.205" stop-color="#ace5d7"/><stop offset="0.336" stop-color="#d0d7cb"/><stop offset="0.500" stop-color="#e0cbc5"/><stop offset="0.631" stop-color="#a9d3d6"/><stop offset="0.795" stop-color="#59c8e7"/><stop offset="1.000" stop-color="#25b8eb"/></linearGradient><linearGradient id="v22" gradientUnits="userSpaceOnUse" x1="290.6" y1="0.0" x2="319.9" y2="0.0"><stop offset="0.000" stop-color="#9ce8a5"/><stop offset="0.205" stop-color="#c2ecba"/><stop offset="0.336" stop-color="#ddddbf"/><stop offset="0.500" stop-color="#e6d4bd"/><stop offset="0.631" stop-color="#c2debe"/><stop offset="0.795" stop-color="#70d4cc"/><stop offset="1.000" stop-color="#3dc6d3"/></linearGradient><linearGradient id="mg22" gradientUnits="userSpaceOnUse" x1="0.0" y1="184.6" x2="0.0" y2="209.0"><stop offset="0.000" stop-color="#000"/><stop offset="1.000" stop-color="#fff"/></linearGradient><mask id="mk22" maskUnits="userSpaceOnUse" x="289.6" y="177.5" width="31.3" height="34.4"><rect x="289.6" y="177.5" width="31.3" height="34.4" fill="url(#mg22)"/></mask><linearGradient id="t22" gradientUnits="userSpaceOnUse" x1="302.6" y1="178.5" x2="307.9" y2="189.5"><stop offset="0.000" stop-color="#8c7ee4"/><stop offset="0.500" stop-color="#6cb4f0"/><stop offset="1.000" stop-color="#86dcec"/></linearGradient><linearGradient id="b22" gradientUnits="userSpaceOnUse" x1="0.0" y1="210.9" x2="0.0" y2="201.9"><stop offset="0.000" stop-color="#f6e354" stop-opacity="0.95"/><stop offset="0.450" stop-color="#f0e468" stop-opacity="0.6"/><stop offset="1.000" stop-color="#e0e880" stop-opacity="0.08"/></linearGradient>
<linearGradient id="h23" gradientUnits="userSpaceOnUse" x1="312.3" y1="0.0" x2="335.2" y2="0.0"><stop offset="0.000" stop-color="#5edcd8"/><stop offset="0.120" stop-color="#b4e6d8"/><stop offset="0.197" stop-color="#dad6ca"/><stop offset="0.500" stop-color="#e9c8c3"/><stop offset="0.784" stop-color="#b3d2d4"/><stop offset="0.880" stop-color="#61cbe9"/><stop offset="1.000" stop-color="#28baed"/></linearGradient><linearGradient id="v23" gradientUnits="userSpaceOnUse" x1="312.3" y1="0.0" x2="335.2" y2="0.0"><stop offset="0.000" stop-color="#98e8a8"/><stop offset="0.120" stop-color="#c0ecc0"/><stop offset="0.197" stop-color="#dcdac4"/><stop offset="0.500" stop-color="#e6d0c0"/><stop offset="0.784" stop-color="#c7ddc0"/><stop offset="0.880" stop-color="#77d6cf"/><stop offset="1.000" stop-color="#3ec8d7"/></linearGradient><linearGradient id="mg23" gradientUnits="userSpaceOnUse" x1="0.0" y1="186.9" x2="0.0" y2="215.6"><stop offset="0.000" stop-color="#000"/><stop offset="1.000" stop-color="#fff"/></linearGradient><mask id="mk23" maskUnits="userSpaceOnUse" x="311.3" y="182.6" width="24.9" height="35.9"><rect x="311.3" y="182.6" width="24.9" height="35.9" fill="url(#mg23)"/></mask><linearGradient id="t23" gradientUnits="userSpaceOnUse" x1="317.8" y1="183.6" x2="329.7" y2="191.8"><stop offset="0.000" stop-color="#8c7ee4"/><stop offset="0.500" stop-color="#6cb4f0"/><stop offset="1.000" stop-color="#86dcec"/></linearGradient><linearGradient id="b23" gradientUnits="userSpaceOnUse" x1="0.0" y1="217.5" x2="0.0" y2="211.3"><stop offset="0.000" stop-color="#f6e354" stop-opacity="0.95"/><stop offset="0.450" stop-color="#f0e468" stop-opacity="0.6"/><stop offset="1.000" stop-color="#e0e880" stop-opacity="0.08"/></linearGradient>
<linearGradient id="h24" gradientUnits="userSpaceOnUse" x1="305.0" y1="0.0" x2="320.0" y2="0.0"><stop offset="0.000" stop-color="#5bdbd7"/><stop offset="0.200" stop-color="#a9e4d7"/><stop offset="0.328" stop-color="#ccd7cb"/><stop offset="0.500" stop-color="#dcccc7"/><stop offset="0.640" stop-color="#a6d3d6"/><stop offset="0.800" stop-color="#57c8e7"/><stop offset="1.000" stop-color="#25b7ea"/></linearGradient><linearGradient id="v24" gradientUnits="userSpaceOnUse" x1="305.0" y1="0.0" x2="320.0" y2="0.0"><stop offset="0.000" stop-color="#9ee8a4"/><stop offset="0.200" stop-color="#c3ecb7"/><stop offset="0.328" stop-color="#dddebc"/><stop offset="0.500" stop-color="#e6d5bb"/><stop offset="0.640" stop-color="#c0debe"/><stop offset="0.800" stop-color="#6ed3cb"/><stop offset="1.000" stop-color="#3cc6d2"/></linearGradient><linearGradient id="mg24" gradientUnits="userSpaceOnUse" x1="0.0" y1="193.7" x2="0.0" y2="217.0"><stop offset="0.000" stop-color="#000"/><stop offset="1.000" stop-color="#fff"/></linearGradient><mask id="mk24" maskUnits="userSpaceOnUse" x="304.0" y="189.2" width="17.0" height="28.9"><rect x="304.0" y="189.2" width="17.0" height="28.9" fill="url(#mg24)"/></mask><linearGradient id="t24" gradientUnits="userSpaceOnUse" x1="311.0" y1="190.2" x2="314.0" y2="196.7"><stop offset="0.000" stop-color="#8c7ee4"/><stop offset="0.500" stop-color="#6cb4f0"/><stop offset="1.000" stop-color="#86dcec"/></linearGradient><linearGradient id="b24" gradientUnits="userSpaceOnUse" x1="0.0" y1="217.0" x2="0.0" y2="212.5"><stop offset="0.000" stop-color="#f6e354" stop-opacity="0.95"/><stop offset="0.450" stop-color="#f0e468" stop-opacity="0.6"/><stop offset="1.000" stop-color="#e0e880" stop-opacity="0.08"/></linearGradient>
<linearGradient id="h25" gradientUnits="userSpaceOnUse" x1="339.1" y1="0.0" x2="360.0" y2="0.0"><stop offset="0.000" stop-color="#53d9d2"/><stop offset="0.218" stop-color="#83ded2"/><stop offset="0.357" stop-color="#9edbd0"/><stop offset="0.500" stop-color="#b1d8d2"/><stop offset="0.608" stop-color="#88d6db"/><stop offset="0.782" stop-color="#3fc1e3"/><stop offset="1.000" stop-color="#1db1e5"/></linearGradient><linearGradient id="v25" gradientUnits="userSpaceOnUse" x1="339.1" y1="0.0" x2="360.0" y2="0.0"><stop offset="0.000" stop-color="#b2e895"/><stop offset="0.218" stop-color="#cdec99"/><stop offset="0.357" stop-color="#e1eaa2"/><stop offset="0.500" stop-color="#e8e7ab"/><stop offset="0.608" stop-color="#b2e0b9"/><stop offset="0.782" stop-color="#57cdc1"/><stop offset="1.000" stop-color="#39c1c6"/></linearGradient><linearGradient id="mg25" gradientUnits="userSpaceOnUse" x1="0.0" y1="159.2" x2="0.0" y2="170.0"><stop offset="0.000" stop-color="#000"/><stop offset="1.000" stop-color="#fff"/></linearGradient><mask id="mk25" maskUnits="userSpaceOnUse" x="338.1" y="152.2" width="22.9" height="18.8"><rect x="338.1" y="152.2" width="22.9" height="18.8" fill="url(#mg25)"/></mask><linearGradient id="t25" gradientUnits="userSpaceOnUse" x1="350.9" y1="153.2" x2="348.2" y2="162.3"><stop offset="0.000" stop-color="#8c7ee4"/><stop offset="0.500" stop-color="#6cb4f0"/><stop offset="1.000" stop-color="#86dcec"/></linearGradient><linearGradient id="b25" gradientUnits="userSpaceOnUse" x1="0.0" y1="170.1" x2="0.0" y2="163.0"><stop offset="0.000" stop-color="#f6e354" stop-opacity="0.95"/><stop offset="0.450" stop-color="#f0e468" stop-opacity="0.6"/><stop offset="1.000" stop-color="#e0e880" stop-opacity="0.08"/></linearGradient>
<linearGradient id="h26" gradientUnits="userSpaceOnUse" x1="345.5" y1="0.0" x2="368.8" y2="0.0"><stop offset="0.000" stop-color="#53d9d1"/><stop offset="0.118" stop-color="#83ded1"/><stop offset="0.194" stop-color="#9edbd1"/><stop offset="0.500" stop-color="#b1d8d2"/><stop offset="0.788" stop-color="#88d6db"/><stop offset="0.882" stop-color="#3fc1e3"/><stop offset="1.000" stop-color="#1db1e5"/></linearGradient><linearGradient id="v26" gradientUnits="userSpaceOnUse" x1="345.5" y1="0.0" x2="368.8" y2="0.0"><stop offset="0.000" stop-color="#b2e894"/><stop offset="0.118" stop-color="#cdec99"/><stop offset="0.194" stop-color="#e1eaa2"/><stop offset="0.500" stop-color="#e8e7ab"/><stop offset="0.788" stop-color="#b2e0b9"/><stop offset="0.882" stop-color="#57cdc1"/><stop offset="1.000" stop-color="#39c1c6"/></linearGradient><linearGradient id="mg26" gradientUnits="userSpaceOnUse" x1="0.0" y1="164.6" x2="0.0" y2="175.3"><stop offset="0.000" stop-color="#000"/><stop offset="1.000" stop-color="#fff"/></linearGradient><mask id="mk26" maskUnits="userSpaceOnUse" x="344.5" y="160.3" width="25.3" height="18.0"><rect x="344.5" y="160.3" width="25.3" height="18.0" fill="url(#mg26)"/></mask><linearGradient id="t26" gradientUnits="userSpaceOnUse" x1="351.0" y1="161.3" x2="363.3" y2="169.6"><stop offset="0.000" stop-color="#8c7ee4"/><stop offset="0.500" stop-color="#6cb4f0"/><stop offset="1.000" stop-color="#86dcec"/></linearGradient><linearGradient id="b26" gradientUnits="userSpaceOnUse" x1="0.0" y1="177.3" x2="0.0" y2="171.0"><stop offset="0.000" stop-color="#f6e354" stop-opacity="0.95"/><stop offset="0.450" stop-color="#f0e468" stop-opacity="0.6"/><stop offset="1.000" stop-color="#e0e880" stop-opacity="0.08"/></linearGradient>
<linearGradient id="h27" gradientUnits="userSpaceOnUse" x1="304.5" y1="0.0" x2="333.9" y2="0.0"><stop offset="0.000" stop-color="#52d9d1"/><stop offset="0.218" stop-color="#81ded1"/><stop offset="0.357" stop-color="#9bdbd1"/><stop offset="0.500" stop-color="#afd9d3"/><stop offset="0.608" stop-color="#87d6dc"/><stop offset="0.782" stop-color="#3ec1e2"/><stop offset="1.000" stop-color="#1db1e4"/></linearGradient><linearGradient id="v27" gradientUnits="userSpaceOnUse" x1="304.5" y1="0.0" x2="333.9" y2="0.0"><stop offset="0.000" stop-color="#b3e894"/><stop offset="0.218" stop-color="#ceec97"/><stop offset="0.357" stop-color="#e1eba1"/><stop offset="0.500" stop-color="#e8e8aa"/><stop offset="0.608" stop-color="#b1e0b8"/><stop offset="0.782" stop-color="#56cdc1"/><stop offset="1.000" stop-color="#38c0c5"/></linearGradient><linearGradient id="mg27" gradientUnits="userSpaceOnUse" x1="0.0" y1="237.4" x2="0.0" y2="247.5"><stop offset="0.000" stop-color="#000"/><stop offset="1.000" stop-color="#fff"/></linearGradient><mask id="mk27" maskUnits="userSpaceOnUse" x="303.5" y="230.0" width="31.4" height="20.2"><rect x="303.5" y="230.0" width="31.4" height="20.2" fill="url(#mg27)"/></mask><linearGradient id="t27" gradientUnits="userSpaceOnUse" x1="317.3" y1="231.0" x2="321.1" y2="242.1"><stop offset="0.000" stop-color="#8c7ee4"/><stop offset="0.500" stop-color="#6cb4f0"/><stop offset="1.000" stop-color="#86dcec"/></linearGradient><linearGradient id="b27" gradientUnits="userSpaceOnUse" x1="0.0" y1="249.2" x2="0.0" y2="240.1"><stop offset="0.000" stop-color="#f6e354" stop-opacity="0.95"/><stop offset="0.450" stop-color="#f0e468" stop-opacity="0.6"/><stop offset="1.000" stop-color="#e0e880" stop-opacity="0.08"/></linearGradient>
<linearGradient id="h28" gradientUnits="userSpaceOnUse" x1="375.5" y1="0.0" x2="389.8" y2="0.0"><stop offset="0.000" stop-color="#5edcd8"/><stop offset="0.220" stop-color="#b4e6d8"/><stop offset="0.361" stop-color="#dad6ca"/><stop offset="0.500" stop-color="#e9c8c3"/><stop offset="0.603" stop-color="#e3cdcc"/><stop offset="0.780" stop-color="#88d6f0"/><stop offset="1.000" stop-color="#34c4f6"/></linearGradient><linearGradient id="v28" gradientUnits="userSpaceOnUse" x1="375.5" y1="0.0" x2="389.8" y2="0.0"><stop offset="0.000" stop-color="#98e8a8"/><stop offset="0.220" stop-color="#c0ecc0"/><stop offset="0.361" stop-color="#dcdac4"/><stop offset="0.500" stop-color="#e6d0c0"/><stop offset="0.603" stop-color="#dedac8"/><stop offset="0.780" stop-color="#9ce0de"/><stop offset="1.000" stop-color="#44d0ea"/></linearGradient><linearGradient id="mg28" gradientUnits="userSpaceOnUse" x1="0.0" y1="90.6" x2="0.0" y2="241.2"><stop offset="0.000" stop-color="#000"/><stop offset="1.000" stop-color="#fff"/></linearGradient><mask id="mk28" maskUnits="userSpaceOnUse" x="374.5" y="85.9" width="16.3" height="156.1"><rect x="374.5" y="85.9" width="16.3" height="156.1" fill="url(#mg28)"/></mask><linearGradient id="t28" gradientUnits="userSpaceOnUse" x1="381.8" y1="86.9" x2="383.5" y2="93.4"><stop offset="0.000" stop-color="#8c7ee4"/><stop offset="0.500" stop-color="#6cb4f0"/><stop offset="1.000" stop-color="#86dcec"/></linearGradient><linearGradient id="b28" gradientUnits="userSpaceOnUse" x1="0.0" y1="241.0" x2="0.0" y2="236.5"><stop offset="0.000" stop-color="#f6e354" stop-opacity="0.95"/><stop offset="0.450" stop-color="#f0e468" stop-opacity="0.6"/><stop offset="1.000" stop-color="#e0e880" stop-opacity="0.08"/></linearGradient>
<linearGradient id="h29" gradientUnits="userSpaceOnUse" x1="382.4" y1="0.0" x2="396.9" y2="0.0"><stop offset="0.000" stop-color="#5edcd8"/><stop offset="0.207" stop-color="#b4e6d8"/><stop offset="0.339" stop-color="#dad6ca"/><stop offset="0.500" stop-color="#e9c8c3"/><stop offset="0.628" stop-color="#e3cdcc"/><stop offset="0.793" stop-color="#88d6f0"/><stop offset="1.000" stop-color="#34c4f6"/></linearGradient><linearGradient id="v29" gradientUnits="userSpaceOnUse" x1="382.4" y1="0.0" x2="396.9" y2="0.0"><stop offset="0.000" stop-color="#98e8a8"/><stop offset="0.207" stop-color="#c0ecc0"/><stop offset="0.339" stop-color="#dcdac4"/><stop offset="0.500" stop-color="#e6d0c0"/><stop offset="0.628" stop-color="#dedac8"/><stop offset="0.793" stop-color="#9ce0de"/><stop offset="1.000" stop-color="#44d0ea"/></linearGradient><linearGradient id="mg29" gradientUnits="userSpaceOnUse" x1="0.0" y1="104.6" x2="0.0" y2="256.7"><stop offset="0.000" stop-color="#000"/><stop offset="1.000" stop-color="#fff"/></linearGradient><mask id="mk29" maskUnits="userSpaceOnUse" x="381.4" y="100.1" width="16.5" height="157.5"><rect x="381.4" y="100.1" width="16.5" height="157.5" fill="url(#mg29)"/></mask><linearGradient id="t29" gradientUnits="userSpaceOnUse" x1="388.4" y1="101.1" x2="390.9" y2="107.5"><stop offset="0.000" stop-color="#8c7ee4"/><stop offset="0.500" stop-color="#6cb4f0"/><stop offset="1.000" stop-color="#86dcec"/></linearGradient><linearGradient id="b29" gradientUnits="userSpaceOnUse" x1="0.0" y1="256.6" x2="0.0" y2="252.2"><stop offset="0.000" stop-color="#f6e354" stop-opacity="0.95"/><stop offset="0.450" stop-color="#f0e468" stop-opacity="0.6"/><stop offset="1.000" stop-color="#e0e880" stop-opacity="0.08"/></linearGradient>
<linearGradient id="h30" gradientUnits="userSpaceOnUse" x1="352.2" y1="0.0" x2="375.5" y2="0.0"><stop offset="0.000" stop-color="#5adbd6"/><stop offset="0.137" stop-color="#a2e3d6"/><stop offset="0.225" stop-color="#c3d8cc"/><stop offset="0.500" stop-color="#d4cec9"/><stop offset="0.753" stop-color="#a0d3d7"/><stop offset="0.863" stop-color="#53c7e6"/><stop offset="1.000" stop-color="#23b6e9"/></linearGradient><linearGradient id="v30" gradientUnits="userSpaceOnUse" x1="352.2" y1="0.0" x2="375.5" y2="0.0"><stop offset="0.000" stop-color="#a2e8a1"/><stop offset="0.137" stop-color="#c5ecb1"/><stop offset="0.225" stop-color="#dee0b7"/><stop offset="0.500" stop-color="#e7d9b8"/><stop offset="0.753" stop-color="#bedebd"/><stop offset="0.863" stop-color="#69d2c9"/><stop offset="1.000" stop-color="#3cc5cf"/></linearGradient><linearGradient id="mg30" gradientUnits="userSpaceOnUse" x1="0.0" y1="224.1" x2="0.0" y2="245.0"><stop offset="0.000" stop-color="#000"/><stop offset="1.000" stop-color="#fff"/></linearGradient><mask id="mk30" maskUnits="userSpaceOnUse" x="351.2" y="219.4" width="25.3" height="28.4"><rect x="351.2" y="219.4" width="25.3" height="28.4" fill="url(#mg30)"/></mask><linearGradient id="t30" gradientUnits="userSpaceOnUse" x1="358.6" y1="220.4" x2="369.1" y2="228.9"><stop offset="0.000" stop-color="#8c7ee4"/><stop offset="0.500" stop-color="#6cb4f0"/><stop offset="1.000" stop-color="#86dcec"/></linearGradient><linearGradient id="b30" gradientUnits="userSpaceOnUse" x1="0.0" y1="246.8" x2="0.0" y2="240.3"><stop offset="0.000" stop-color="#f6e354" stop-opacity="0.95"/><stop offset="0.450" stop-color="#f0e468" stop-opacity="0.6"/><stop offset="1.000" stop-color="#e0e880" stop-opacity="0.08"/></linearGradient>
<linearGradient id="h31" gradientUnits="userSpaceOnUse" x1="363.6" y1="0.0" x2="379.1" y2="0.0"><stop offset="0.000" stop-color="#52d9d1"/><stop offset="0.177" stop-color="#81ded1"/><stop offset="0.291" stop-color="#9bdbd1"/><stop offset="0.500" stop-color="#afd9d3"/><stop offset="0.681" stop-color="#87d6dc"/><stop offset="0.823" stop-color="#3ec1e2"/><stop offset="1.000" stop-color="#1db1e4"/></linearGradient><linearGradient id="v31" gradientUnits="userSpaceOnUse" x1="363.6" y1="0.0" x2="379.1" y2="0.0"><stop offset="0.000" stop-color="#b3e894"/><stop offset="0.177" stop-color="#ceec97"/><stop offset="0.291" stop-color="#e1eba1"/><stop offset="0.500" stop-color="#e8e8aa"/><stop offset="0.681" stop-color="#b1e0b8"/><stop offset="0.823" stop-color="#56cdc1"/><stop offset="1.000" stop-color="#38c0c5"/></linearGradient><linearGradient id="mg31" gradientUnits="userSpaceOnUse" x1="0.0" y1="218.3" x2="0.0" y2="228.4"><stop offset="0.000" stop-color="#000"/><stop offset="1.000" stop-color="#fff"/></linearGradient><mask id="mk31" maskUnits="userSpaceOnUse" x="362.6" y="214.0" width="17.5" height="15.7"><rect x="362.6" y="214.0" width="17.5" height="15.7" fill="url(#mg31)"/></mask><linearGradient id="t31" gradientUnits="userSpaceOnUse" x1="369.1" y1="215.0" x2="373.6" y2="221.6"><stop offset="0.000" stop-color="#8c7ee4"/><stop offset="0.500" stop-color="#6cb4f0"/><stop offset="1.000" stop-color="#86dcec"/></linearGradient><linearGradient id="b31" gradientUnits="userSpaceOnUse" x1="0.0" y1="228.7" x2="0.0" y2="224.1"><stop offset="0.000" stop-color="#f6e354" stop-opacity="0.95"/><stop offset="0.450" stop-color="#f0e468" stop-opacity="0.6"/><stop offset="1.000" stop-color="#e0e880" stop-opacity="0.08"/></linearGradient>
<linearGradient id="h32" gradientUnits="userSpaceOnUse" x1="384.5" y1="0.0" x2="408.2" y2="0.0"><stop offset="0.000" stop-color="#5edcd8"/><stop offset="0.135" stop-color="#b4e6d8"/><stop offset="0.221" stop-color="#dad6ca"/><stop offset="0.500" stop-color="#e9c8c3"/><stop offset="0.757" stop-color="#e3cdcc"/><stop offset="0.865" stop-color="#88d6f0"/><stop offset="1.000" stop-color="#34c4f6"/></linearGradient><linearGradient id="v32" gradientUnits="userSpaceOnUse" x1="384.5" y1="0.0" x2="408.2" y2="0.0"><stop offset="0.000" stop-color="#98e8a8"/><stop offset="0.135" stop-color="#c0ecc0"/><stop offset="0.221" stop-color="#dcdac4"/><stop offset="0.500" stop-color="#e6d0c0"/><stop offset="0.757" stop-color="#dedac8"/><stop offset="0.865" stop-color="#9ce0de"/><stop offset="1.000" stop-color="#44d0ea"/></linearGradient><linearGradient id="mg32" gradientUnits="userSpaceOnUse" x1="0.0" y1="217.9" x2="0.0" y2="268.4"><stop offset="0.000" stop-color="#000"/><stop offset="1.000" stop-color="#fff"/></linearGradient><mask id="mk32" maskUnits="userSpaceOnUse" x="383.5" y="213.2" width="25.7" height="58.1"><rect x="383.5" y="213.2" width="25.7" height="58.1" fill="url(#mg32)"/></mask><linearGradient id="t32" gradientUnits="userSpaceOnUse" x1="390.9" y1="214.2" x2="401.8" y2="222.8"><stop offset="0.000" stop-color="#8c7ee4"/><stop offset="0.500" stop-color="#6cb4f0"/><stop offset="1.000" stop-color="#86dcec"/></linearGradient><linearGradient id="b32" gradientUnits="userSpaceOnUse" x1="0.0" y1="270.3" x2="0.0" y2="263.7"><stop offset="0.000" stop-color="#f6e354" stop-opacity="0.95"/><stop offset="0.450" stop-color="#f0e468" stop-opacity="0.6"/><stop offset="1.000" stop-color="#e0e880" stop-opacity="0.08"/></linearGradient>
<linearGradient id="h33" gradientUnits="userSpaceOnUse" x1="416.4" y1="0.0" x2="436.4" y2="0.0"><stop offset="0.000" stop-color="#5edcd8"/><stop offset="0.225" stop-color="#b4e6d8"/><stop offset="0.369" stop-color="#dad6ca"/><stop offset="0.500" stop-color="#e9c8c3"/><stop offset="0.595" stop-color="#e3cdcc"/><stop offset="0.775" stop-color="#88d6f0"/><stop offset="1.000" stop-color="#34c4f6"/></linearGradient><linearGradient id="v33" gradientUnits="userSpaceOnUse" x1="416.4" y1="0.0" x2="436.4" y2="0.0"><stop offset="0.000" stop-color="#98e8a8"/><stop offset="0.225" stop-color="#c0ecc0"/><stop offset="0.369" stop-color="#dcdac4"/><stop offset="0.500" stop-color="#e6d0c0"/><stop offset="0.595" stop-color="#dedac8"/><stop offset="0.775" stop-color="#9ce0de"/><stop offset="1.000" stop-color="#44d0ea"/></linearGradient><linearGradient id="mg33" gradientUnits="userSpaceOnUse" x1="0.0" y1="181.2" x2="0.0" y2="241.1"><stop offset="0.000" stop-color="#000"/><stop offset="1.000" stop-color="#fff"/></linearGradient><mask id="mk33" maskUnits="userSpaceOnUse" x="415.4" y="175.4" width="22.0" height="67.2"><rect x="415.4" y="175.4" width="22.0" height="67.2" fill="url(#mg33)"/></mask><linearGradient id="t33" gradientUnits="userSpaceOnUse" x1="425.4" y1="176.4" x2="427.4" y2="184.7"><stop offset="0.000" stop-color="#8c7ee4"/><stop offset="0.500" stop-color="#6cb4f0"/><stop offset="1.000" stop-color="#86dcec"/></linearGradient><linearGradient id="b33" gradientUnits="userSpaceOnUse" x1="0.0" y1="241.6" x2="0.0" y2="235.3"><stop offset="0.000" stop-color="#f6e354" stop-opacity="0.95"/><stop offset="0.450" stop-color="#f0e468" stop-opacity="0.6"/><stop offset="1.000" stop-color="#e0e880" stop-opacity="0.08"/></linearGradient>
<linearGradient id="h34" gradientUnits="userSpaceOnUse" x1="425.9" y1="0.0" x2="440.9" y2="0.0"><stop offset="0.000" stop-color="#5edcd8"/><stop offset="0.200" stop-color="#b4e6d8"/><stop offset="0.328" stop-color="#dad6ca"/><stop offset="0.500" stop-color="#e9c8c3"/><stop offset="0.640" stop-color="#e3cdcc"/><stop offset="0.800" stop-color="#88d6f0"/><stop offset="1.000" stop-color="#34c4f6"/></linearGradient><linearGradient id="v34" gradientUnits="userSpaceOnUse" x1="425.9" y1="0.0" x2="440.9" y2="0.0"><stop offset="0.000" stop-color="#98e8a8"/><stop offset="0.200" stop-color="#c0ecc0"/><stop offset="0.328" stop-color="#dcdac4"/><stop offset="0.500" stop-color="#e6d0c0"/><stop offset="0.640" stop-color="#dedac8"/><stop offset="0.800" stop-color="#9ce0de"/><stop offset="1.000" stop-color="#44d0ea"/></linearGradient><linearGradient id="mg34" gradientUnits="userSpaceOnUse" x1="0.0" y1="192.9" x2="0.0" y2="245.0"><stop offset="0.000" stop-color="#000"/><stop offset="1.000" stop-color="#fff"/></linearGradient><mask id="mk34" maskUnits="userSpaceOnUse" x="424.9" y="188.4" width="17.0" height="57.7"><rect x="424.9" y="188.4" width="17.0" height="57.7" fill="url(#mg34)"/></mask><linearGradient id="t34" gradientUnits="userSpaceOnUse" x1="431.9" y1="189.4" x2="434.9" y2="195.9"><stop offset="0.000" stop-color="#8c7ee4"/><stop offset="0.500" stop-color="#6cb4f0"/><stop offset="1.000" stop-color="#86dcec"/></linearGradient><linearGradient id="b34" gradientUnits="userSpaceOnUse" x1="0.0" y1="245.0" x2="0.0" y2="240.5"><stop offset="0.000" stop-color="#f6e354" stop-opacity="0.95"/><stop offset="0.450" stop-color="#f0e468" stop-opacity="0.6"/><stop offset="1.000" stop-color="#e0e880" stop-opacity="0.08"/></linearGradient>
<linearGradient id="h35" gradientUnits="userSpaceOnUse" x1="403.4" y1="0.0" x2="426.1" y2="0.0"><stop offset="0.000" stop-color="#5adbd6"/><stop offset="0.137" stop-color="#a3e3d6"/><stop offset="0.224" stop-color="#c5d8cc"/><stop offset="0.500" stop-color="#d6cec8"/><stop offset="0.754" stop-color="#a1d3d7"/><stop offset="0.863" stop-color="#54c7e6"/><stop offset="1.000" stop-color="#23b6ea"/></linearGradient><linearGradient id="v35" gradientUnits="userSpaceOnUse" x1="403.4" y1="0.0" x2="426.1" y2="0.0"><stop offset="0.000" stop-color="#a1e8a1"/><stop offset="0.137" stop-color="#c4ecb3"/><stop offset="0.224" stop-color="#dee0b8"/><stop offset="0.500" stop-color="#e7d8b9"/><stop offset="0.754" stop-color="#bedebd"/><stop offset="0.863" stop-color="#6ad2c9"/><stop offset="1.000" stop-color="#3cc5d0"/></linearGradient><linearGradient id="mg35" gradientUnits="userSpaceOnUse" x1="0.0" y1="190.1" x2="0.0" y2="211.5"><stop offset="0.000" stop-color="#000"/><stop offset="1.000" stop-color="#fff"/></linearGradient><mask id="mk35" maskUnits="userSpaceOnUse" x="402.4" y="185.5" width="24.7" height="28.7"><rect x="402.4" y="185.5" width="24.7" height="28.7" fill="url(#mg35)"/></mask><linearGradient id="t35" gradientUnits="userSpaceOnUse" x1="409.6" y1="186.5" x2="419.9" y2="194.8"><stop offset="0.000" stop-color="#8c7ee4"/><stop offset="0.500" stop-color="#6cb4f0"/><stop offset="1.000" stop-color="#86dcec"/></linearGradient><linearGradient id="b35" gradientUnits="userSpaceOnUse" x1="0.0" y1="213.2" x2="0.0" y2="206.9"><stop offset="0.000" stop-color="#f6e354" stop-opacity="0.95"/><stop offset="0.450" stop-color="#f0e468" stop-opacity="0.6"/><stop offset="1.000" stop-color="#e0e880" stop-opacity="0.08"/></linearGradient>
<linearGradient id="h36" gradientUnits="userSpaceOnUse" x1="400.8" y1="0.0" x2="415.3" y2="0.0"><stop offset="0.000" stop-color="#52d9d1"/><stop offset="0.172" stop-color="#80ddd1"/><stop offset="0.283" stop-color="#9adbd1"/><stop offset="0.500" stop-color="#aed9d3"/><stop offset="0.690" stop-color="#86d6dc"/><stop offset="0.828" stop-color="#3ec0e2"/><stop offset="1.000" stop-color="#1cb0e4"/></linearGradient><linearGradient id="v36" gradientUnits="userSpaceOnUse" x1="400.8" y1="0.0" x2="415.3" y2="0.0"><stop offset="0.000" stop-color="#b4e893"/><stop offset="0.172" stop-color="#ceec97"/><stop offset="0.283" stop-color="#e1eba0"/><stop offset="0.500" stop-color="#e8e8aa"/><stop offset="0.690" stop-color="#b1e0b8"/><stop offset="0.828" stop-color="#55ccc1"/><stop offset="1.000" stop-color="#38c0c5"/></linearGradient><linearGradient id="mg36" gradientUnits="userSpaceOnUse" x1="0.0" y1="207.7" x2="0.0" y2="217.5"><stop offset="0.000" stop-color="#000"/><stop offset="1.000" stop-color="#fff"/></linearGradient><mask id="mk36" maskUnits="userSpaceOnUse" x="399.8" y="203.6" width="16.5" height="15.0"><rect x="399.8" y="203.6" width="16.5" height="15.0" fill="url(#mg36)"/></mask><linearGradient id="t36" gradientUnits="userSpaceOnUse" x1="405.8" y1="204.6" x2="410.3" y2="210.8"><stop offset="0.000" stop-color="#8c7ee4"/><stop offset="0.500" stop-color="#6cb4f0"/><stop offset="1.000" stop-color="#86dcec"/></linearGradient><linearGradient id="b36" gradientUnits="userSpaceOnUse" x1="0.0" y1="217.6" x2="0.0" y2="213.4"><stop offset="0.000" stop-color="#f6e354" stop-opacity="0.95"/><stop offset="0.450" stop-color="#f0e468" stop-opacity="0.6"/><stop offset="1.000" stop-color="#e0e880" stop-opacity="0.08"/></linearGradient>
<linearGradient id="h37" gradientUnits="userSpaceOnUse" x1="425.9" y1="0.0" x2="455.0" y2="0.0"><stop offset="0.000" stop-color="#5edcd8"/><stop offset="0.210" stop-color="#b4e6d8"/><stop offset="0.344" stop-color="#dad6ca"/><stop offset="0.500" stop-color="#e9c8c3"/><stop offset="0.623" stop-color="#e3cdcc"/><stop offset="0.790" stop-color="#88d6f0"/><stop offset="1.000" stop-color="#34c4f6"/></linearGradient><linearGradient id="v37" gradientUnits="userSpaceOnUse" x1="425.9" y1="0.0" x2="455.0" y2="0.0"><stop offset="0.000" stop-color="#98e8a8"/><stop offset="0.210" stop-color="#c0ecc0"/><stop offset="0.344" stop-color="#dcdac4"/><stop offset="0.500" stop-color="#e6d0c0"/><stop offset="0.623" stop-color="#dedac8"/><stop offset="0.790" stop-color="#9ce0de"/><stop offset="1.000" stop-color="#44d0ea"/></linearGradient><linearGradient id="mg37" gradientUnits="userSpaceOnUse" x1="0.0" y1="167.0" x2="0.0" y2="266.5"><stop offset="0.000" stop-color="#000"/><stop offset="1.000" stop-color="#fff"/></linearGradient><mask id="mk37" maskUnits="userSpaceOnUse" x="424.9" y="159.9" width="31.1" height="109.5"><rect x="424.9" y="159.9" width="31.1" height="109.5" fill="url(#mg37)"/></mask><linearGradient id="t37" gradientUnits="userSpaceOnUse" x1="438.1" y1="160.9" x2="442.8" y2="171.8"><stop offset="0.000" stop-color="#8c7ee4"/><stop offset="0.500" stop-color="#6cb4f0"/><stop offset="1.000" stop-color="#86dcec"/></linearGradient><linearGradient id="b37" gradientUnits="userSpaceOnUse" x1="0.0" y1="268.3" x2="0.0" y2="259.4"><stop offset="0.000" stop-color="#f6e354" stop-opacity="0.95"/><stop offset="0.450" stop-color="#f0e468" stop-opacity="0.6"/><stop offset="1.000" stop-color="#e0e880" stop-opacity="0.08"/></linearGradient>
<linearGradient id="h38" gradientUnits="userSpaceOnUse" x1="466.0" y1="0.0" x2="490.0" y2="0.0"><stop offset="0.000" stop-color="#5edcd8"/><stop offset="0.133" stop-color="#b4e6d8"/><stop offset="0.219" stop-color="#dad6ca"/><stop offset="0.500" stop-color="#e9c8c3"/><stop offset="0.760" stop-color="#e3cdcc"/><stop offset="0.867" stop-color="#88d6f0"/><stop offset="1.000" stop-color="#34c4f6"/></linearGradient><linearGradient id="v38" gradientUnits="userSpaceOnUse" x1="466.0" y1="0.0" x2="490.0" y2="0.0"><stop offset="0.000" stop-color="#98e8a8"/><stop offset="0.133" stop-color="#c0ecc0"/><stop offset="0.219" stop-color="#dcdac4"/><stop offset="0.500" stop-color="#e6d0c0"/><stop offset="0.760" stop-color="#dedac8"/><stop offset="0.867" stop-color="#9ce0de"/><stop offset="1.000" stop-color="#44d0ea"/></linearGradient><linearGradient id="mg38" gradientUnits="userSpaceOnUse" x1="0.0" y1="149.5" x2="0.0" y2="250.2"><stop offset="0.000" stop-color="#000"/><stop offset="1.000" stop-color="#fff"/></linearGradient><mask id="mk38" maskUnits="userSpaceOnUse" x="465.0" y="144.8" width="26.0" height="108.4"><rect x="465.0" y="144.8" width="26.0" height="108.4" fill="url(#mg38)"/></mask><linearGradient id="t38" gradientUnits="userSpaceOnUse" x1="472.4" y1="145.8" x2="483.6" y2="154.5"><stop offset="0.000" stop-color="#8c7ee4"/><stop offset="0.500" stop-color="#6cb4f0"/><stop offset="1.000" stop-color="#86dcec"/></linearGradient><linearGradient id="b38" gradientUnits="userSpaceOnUse" x1="0.0" y1="252.2" x2="0.0" y2="245.5"><stop offset="0.000" stop-color="#f6e354" stop-opacity="0.95"/><stop offset="0.450" stop-color="#f0e468" stop-opacity="0.6"/><stop offset="1.000" stop-color="#e0e880" stop-opacity="0.08"/></linearGradient>
<linearGradient id="h39" gradientUnits="userSpaceOnUse" x1="445.0" y1="0.0" x2="474.2" y2="0.0"><stop offset="0.000" stop-color="#59dbd5"/><stop offset="0.202" stop-color="#9fe3d5"/><stop offset="0.331" stop-color="#c0d8cd"/><stop offset="0.500" stop-color="#d1cfca"/><stop offset="0.636" stop-color="#9ed4d8"/><stop offset="0.798" stop-color="#51c6e6"/><stop offset="1.000" stop-color="#23b6e9"/></linearGradient><linearGradient id="v39" gradientUnits="userSpaceOnUse" x1="445.0" y1="0.0" x2="474.2" y2="0.0"><stop offset="0.000" stop-color="#a3e8a0"/><stop offset="0.202" stop-color="#c6ecaf"/><stop offset="0.331" stop-color="#dee1b6"/><stop offset="0.500" stop-color="#e7dab7"/><stop offset="0.636" stop-color="#bddebc"/><stop offset="0.798" stop-color="#68d2c8"/><stop offset="1.000" stop-color="#3bc4cf"/></linearGradient><linearGradient id="mg39" gradientUnits="userSpaceOnUse" x1="0.0" y1="170.1" x2="0.0" y2="190.2"><stop offset="0.000" stop-color="#000"/><stop offset="1.000" stop-color="#fff"/></linearGradient><mask id="mk39" maskUnits="userSpaceOnUse" x="444.0" y="163.1" width="31.2" height="30.0"><rect x="444.0" y="163.1" width="31.2" height="30.0" fill="url(#mg39)"/></mask><linearGradient id="t39" gradientUnits="userSpaceOnUse" x1="456.8" y1="164.1" x2="462.4" y2="175.0"><stop offset="0.000" stop-color="#8c7ee4"/><stop offset="0.500" stop-color="#6cb4f0"/><stop offset="1.000" stop-color="#86dcec"/></linearGradient><linearGradient id="b39" gradientUnits="userSpaceOnUse" x1="0.0" y1="192.1" x2="0.0" y2="183.2"><stop offset="0.000" stop-color="#f6e354" stop-opacity="0.95"/><stop offset="0.450" stop-color="#f0e468" stop-opacity="0.6"/><stop offset="1.000" stop-color="#e0e880" stop-opacity="0.08"/></linearGradient>
<linearGradient id="h40" gradientUnits="userSpaceOnUse" x1="414.6" y1="0.0" x2="429.6" y2="0.0"><stop offset="0.000" stop-color="#52d8d1"/><stop offset="0.183" stop-color="#80ddd1"/><stop offset="0.301" stop-color="#99dbd1"/><stop offset="0.500" stop-color="#addad4"/><stop offset="0.670" stop-color="#85d6dc"/><stop offset="0.817" stop-color="#3dc0e2"/><stop offset="1.000" stop-color="#1cb0e4"/></linearGradient><linearGradient id="v40" gradientUnits="userSpaceOnUse" x1="414.6" y1="0.0" x2="429.6" y2="0.0"><stop offset="0.000" stop-color="#b4e893"/><stop offset="0.183" stop-color="#ceec96"/><stop offset="0.301" stop-color="#e1ec9f"/><stop offset="0.500" stop-color="#e8e8a9"/><stop offset="0.670" stop-color="#b1e0b8"/><stop offset="0.817" stop-color="#55ccc0"/><stop offset="1.000" stop-color="#38c0c4"/></linearGradient><linearGradient id="mg40" gradientUnits="userSpaceOnUse" x1="0.0" y1="245.2" x2="0.0" y2="254.7"><stop offset="0.000" stop-color="#000"/><stop offset="1.000" stop-color="#fff"/></linearGradient><mask id="mk40" maskUnits="userSpaceOnUse" x="413.6" y="240.9" width="17.0" height="15.0"><rect x="413.6" y="240.9" width="17.0" height="15.0" fill="url(#mg40)"/></mask><linearGradient id="t40" gradientUnits="userSpaceOnUse" x1="420.1" y1="241.9" x2="424.1" y2="248.3"><stop offset="0.000" stop-color="#8c7ee4"/><stop offset="0.500" stop-color="#6cb4f0"/><stop offset="1.000" stop-color="#86dcec"/></linearGradient><linearGradient id="b40" gradientUnits="userSpaceOnUse" x1="0.0" y1="254.8" x2="0.0" y2="250.4"><stop offset="0.000" stop-color="#f6e354" stop-opacity="0.95"/><stop offset="0.450" stop-color="#f0e468" stop-opacity="0.6"/><stop offset="1.000" stop-color="#e0e880" stop-opacity="0.08"/></linearGradient>
</defs>
<rect width="550" height="330" fill="#fff"/>
<g id="grid">
<line x1="428.0" y1="285.2" x2="37.4" y2="197.2" stroke="#f0f0f0" stroke-width="0.6" />
<line x1="459.7" y1="271.8" x2="69.1" y2="183.8" stroke="#f0f0f0" stroke-width="0.6" />
<line x1="491.3" y1="258.4" x2="100.7" y2="170.4" stroke="#f0f0f0" stroke-width="0.6" />
<line x1="523.0" y1="245.0" x2="132.4" y2="157.0" stroke="#f0f0f0" stroke-width="0.6" />
<line x1="428.0" y1="285.2" x2="523.0" y2="245.0" stroke="#f0f0f0" stroke-width="0.6" />
<line x1="385.3" y1="275.6" x2="480.3" y2="235.4" stroke="#f0f0f0" stroke-width="0.6" />
<line x1="342.6" y1="266.0" x2="437.6" y2="225.8" stroke="#f0f0f0" stroke-width="0.6" />
<line x1="299.8" y1="256.3" x2="394.8" y2="216.1" stroke="#f0f0f0" stroke-width="0.6" />
<line x1="257.1" y1="246.7" x2="352.1" y2="206.5" stroke="#f0f0f0" stroke-width="0.6" />
<line x1="214.4" y1="237.1" x2="309.4" y2="196.9" stroke="#f0f0f0" stroke-width="0.6" />
<line x1="171.7" y1="227.5" x2="266.7" y2="187.3" stroke="#f0f0f0" stroke-width="0.6" />
<line x1="129.0" y1="217.8" x2="224.0" y2="177.6" stroke="#f0f0f0" stroke-width="0.6" />
<line x1="86.2" y1="208.2" x2="181.2" y2="168.0" stroke="#f0f0f0" stroke-width="0.6" />
<line x1="43.5" y1="198.6" x2="138.5" y2="158.4" stroke="#f0f0f0" stroke-width="0.6" />
<line x1="523.0" y1="245.0" x2="523.0" y2="94.1" stroke="#f0f0f0" stroke-width="0.6" />
<line x1="480.3" y1="235.4" x2="480.3" y2="84.5" stroke="#f0f0f0" stroke-width="0.6" />
<line x1="437.6" y1="225.8" x2="437.6" y2="74.9" stroke="#f0f0f0" stroke-width="0.6" />
<line x1="394.8" y1="216.1" x2="394.8" y2="65.2" stroke="#f0f0f0" stroke-width="0.6" />
<line x1="352.1" y1="206.5" x2="352.1" y2="55.6" stroke="#f0f0f0" stroke-width="0.6" />
<line x1="309.4" y1="196.9" x2="309.4" y2="46.0" stroke="#f0f0f0" stroke-width="0.6" />
<line x1="266.7" y1="187.3" x2="266.7" y2="36.4" stroke="#f0f0f0" stroke-width="0.6" />
<line x1="224.0" y1="177.6" x2="224.0" y2="26.7" stroke="#f0f0f0" stroke-width="0.6" />
<line x1="181.2" y1="168.0" x2="181.2" y2="17.1" stroke="#f0f0f0" stroke-width="0.6" />
<line x1="138.5" y1="158.4" x2="138.5" y2="7.5" stroke="#f0f0f0" stroke-width="0.6" />
<line x1="523.0" y1="245.0" x2="132.4" y2="157.0" stroke="#f0f0f0" stroke-width="0.6" />
<line x1="37.4" y1="197.2" x2="132.4" y2="157.0" stroke="#f0f0f0" stroke-width="0.6" />
<line x1="523.0" y1="219.8" x2="132.4" y2="131.8" stroke="#f0f0f0" stroke-width="0.6" />
<line x1="37.4" y1="172.0" x2="132.4" y2="131.8" stroke="#f0f0f0" stroke-width="0.6" />
<line x1="523.0" y1="194.7" x2="132.4" y2="106.7" stroke="#f0f0f0" stroke-width="0.6" />
<line x1="37.4" y1="146.9" x2="132.4" y2="106.7" stroke="#f0f0f0" stroke-width="0.6" />
<line x1="523.0" y1="169.6" x2="132.4" y2="81.5" stroke="#f0f0f0" stroke-width="0.6" />
<line x1="37.4" y1="121.7" x2="132.4" y2="81.5" stroke="#f0f0f0" stroke-width="0.6" />
<line x1="523.0" y1="144.4" x2="132.4" y2="56.4" stroke="#f0f0f0" stroke-width="0.6" />
<line x1="37.4" y1="96.6" x2="132.4" y2="56.4" stroke="#f0f0f0" stroke-width="0.6" />
<line x1="523.0" y1="119.2" x2="132.4" y2="31.2" stroke="#f0f0f0" stroke-width="0.6" />
<line x1="37.4" y1="71.4" x2="132.4" y2="31.2" stroke="#f0f0f0" stroke-width="0.6" />
<line x1="523.0" y1="94.1" x2="132.4" y2="6.1" stroke="#f0f0f0" stroke-width="0.6" />
<line x1="37.4" y1="46.3" x2="132.4" y2="6.1" stroke="#f0f0f0" stroke-width="0.6" />
<line x1="37.4" y1="197.2" x2="37.4" y2="46.3" stroke="#f0f0f0" stroke-width="0.6" />
<line x1="69.1" y1="183.8" x2="69.1" y2="32.9" stroke="#f0f0f0" stroke-width="0.6" />
<line x1="100.7" y1="170.4" x2="100.7" y2="19.5" stroke="#f0f0f0" stroke-width="0.6" />
<line x1="132.4" y1="157.0" x2="132.4" y2="6.1" stroke="#f0f0f0" stroke-width="0.6" />
<line x1="132.4" y1="157.0" x2="132.4" y2="6.1" stroke="#f0f0f0" stroke-width="0.6" />
<line x1="523.0" y1="245.0" x2="523.0" y2="94.1" stroke="#f0f0f0" stroke-width="0.6" />
</g>
<g id="axes">
<line x1="37.4" y1="197.2" x2="37.4" y2="46.3" stroke="#7a7a7a" stroke-width="0.6" />
<line x1="428.0" y1="285.2" x2="37.4" y2="197.2" stroke="#7a7a7a" stroke-width="0.6" />
<line x1="428.0" y1="285.2" x2="523.0" y2="245.0" stroke="#7a7a7a" stroke-width="0.6" />
<line x1="428.0" y1="285.2" x2="419.3" y2="288.9" stroke="#7a7a7a" stroke-width="0.6" />
<line x1="385.3" y1="275.6" x2="376.5" y2="279.3" stroke="#7a7a7a" stroke-width="0.6" />
<line x1="342.6" y1="266.0" x2="333.8" y2="269.7" stroke="#7a7a7a" stroke-width="0.6" />
<line x1="299.8" y1="256.3" x2="291.1" y2="260.0" stroke="#7a7a7a" stroke-width="0.6" />
<line x1="257.1" y1="246.7" x2="248.4" y2="250.4" stroke="#7a7a7a" stroke-width="0.6" />
<line x1="214.4" y1="237.1" x2="205.6" y2="240.8" stroke="#7a7a7a" stroke-width="0.6" />
<line x1="171.7" y1="227.5" x2="162.9" y2="231.2" stroke="#7a7a7a" stroke-width="0.6" />
<line x1="129.0" y1="217.8" x2="120.2" y2="221.5" stroke="#7a7a7a" stroke-width="0.6" />
<line x1="86.2" y1="208.2" x2="77.5" y2="211.9" stroke="#7a7a7a" stroke-width="0.6" />
<line x1="43.5" y1="198.6" x2="34.8" y2="202.3" stroke="#7a7a7a" stroke-width="0.6" />
<line x1="428.0" y1="285.2" x2="435.9" y2="287.0" stroke="#7a7a7a" stroke-width="0.6" />
<line x1="459.7" y1="271.8" x2="467.5" y2="273.6" stroke="#7a7a7a" stroke-width="0.6" />
<line x1="491.3" y1="258.4" x2="499.2" y2="260.2" stroke="#7a7a7a" stroke-width="0.6" />
<line x1="523.0" y1="245.0" x2="530.9" y2="246.8" stroke="#7a7a7a" stroke-width="0.6" />
<line x1="37.4" y1="197.2" x2="28.1" y2="195.1" stroke="#7a7a7a" stroke-width="0.6" />
<line x1="37.4" y1="172.0" x2="28.1" y2="170.0" stroke="#7a7a7a" stroke-width="0.6" />
<line x1="37.4" y1="146.9" x2="28.1" y2="144.8" stroke="#7a7a7a" stroke-width="0.6" />
<line x1="37.4" y1="121.7" x2="28.1" y2="119.7" stroke="#7a7a7a" stroke-width="0.6" />
<line x1="37.4" y1="96.6" x2="28.1" y2="94.5" stroke="#7a7a7a" stroke-width="0.6" />
<line x1="37.4" y1="71.4" x2="28.1" y2="69.4" stroke="#7a7a7a" stroke-width="0.6" />
<line x1="37.4" y1="46.3" x2="28.1" y2="44.2" stroke="#7a7a7a" stroke-width="0.6" />
</g>
<g id="boxes">
<g id="bx0" opacity="0.66"><polygon points="114.5,82.4 120.8,79.7 138.2,83.7 138.2,183.7 131.9,186.3 114.5,182.4" fill="url(#h0)"/><polygon points="114.5,82.4 120.8,79.7 138.2,83.7 138.2,183.7 131.9,186.3 114.5,182.4" fill="url(#v0)" mask="url(#mk0)"/><polygon points="114.5,182.4 120.8,179.7 138.2,183.7 131.9,186.3" fill="url(#b0)" fill-opacity="0.35"/><polygon points="114.5,182.4 131.9,186.3 134.5,185.2 117.1,181.3" fill="#f4e250" fill-opacity="0.52"/><polygon points="131.9,186.3 138.2,183.7 135.8,183.1 129.5,185.8" fill="#eee660" fill-opacity="0.36"/><polygon points="114.5,82.4 120.8,79.7 138.2,83.7 131.9,86.3" fill="url(#t0)" fill-opacity="0.8"/><path d="M120.8 79.7L120.8 179.7M114.5 182.4L120.8 179.7L138.2 183.7" fill="none" stroke="#241c14" stroke-opacity="0.8" stroke-width="0.6"/><path d="M114.5 82.4L114.5 182.4M131.9 86.3L131.9 186.3M138.2 83.7L138.2 183.7M114.5 82.4L120.8 79.7L138.2 83.7L131.9 86.3ZM114.5 182.4L131.9 186.3L138.2 183.7" fill="none" stroke="#282828" stroke-opacity="0.7" stroke-width="0.55"/></g><use href="#bx0" opacity="0.9" style="mix-blend-mode:multiply"/>
<g id="bx1" opacity="0.66"><polygon points="92.3,116.9 104.5,111.8 121.7,115.6 121.7,125.1 109.5,130.3 92.3,126.4" fill="url(#h1)"/><polygon points="92.3,116.9 104.5,111.8 121.7,115.6 121.7,125.1 109.5,130.3 92.3,126.4" fill="url(#v1)" mask="url(#mk1)"/><polygon points="92.3,126.4 104.5,121.3 121.7,125.1 109.5,130.3" fill="url(#b1)" fill-opacity="0.35"/><polygon points="92.3,126.4 109.5,130.3 112.1,129.2 94.9,125.3" fill="#f4e250" fill-opacity="0.52"/><polygon points="109.5,130.3 121.7,125.1 119.3,124.6 107.1,129.7" fill="#eee660" fill-opacity="0.36"/><polygon points="92.3,116.9 104.5,111.8 121.7,115.6 109.5,120.8" fill="url(#t1)" fill-opacity="0.8"/><path d="M104.5 111.8L104.5 121.3M92.3 126.4L104.5 121.3L121.7 125.1" fill="none" stroke="#241c14" stroke-opacity="0.8" stroke-width="0.6"/><path d="M92.3 116.9L92.3 126.4M109.5 120.8L109.5 130.3M121.7 115.6L121.7 125.1M92.3 116.9L104.5 111.8L121.7 115.6L109.5 120.8ZM92.3 126.4L109.5 130.3L121.7 125.1" fill="none" stroke="#282828" stroke-opacity="0.7" stroke-width="0.55"/></g><use href="#bx1" opacity="0.9" style="mix-blend-mode:multiply"/>
<g id="bx2" opacity="0.66"><polygon points="102.8,158.7 108.6,156.3 124.6,159.9 124.6,169.4 118.8,171.8 102.8,168.2" fill="url(#h2)"/><polygon points="102.8,158.7 108.6,156.3 124.6,159.9 124.6,169.4 118.8,171.8 102.8,168.2" fill="url(#v2)" mask="url(#mk2)"/><polygon points="102.8,168.2 108.6,165.8 124.6,169.4 118.8,171.8" fill="url(#b2)" fill-opacity="0.35"/><polygon points="102.8,168.2 118.8,171.8 121.4,170.7 105.4,167.1" fill="#f4e250" fill-opacity="0.52"/><polygon points="118.8,171.8 124.6,169.4 122.2,168.8 116.4,171.3" fill="#eee660" fill-opacity="0.36"/><polygon points="102.8,158.7 108.6,156.3 124.6,159.9 118.8,162.3" fill="url(#t2)" fill-opacity="0.8"/><path d="M108.6 156.3L108.6 165.8M102.8 168.2L108.6 165.8L124.6 169.4" fill="none" stroke="#241c14" stroke-opacity="0.8" stroke-width="0.6"/><path d="M102.8 158.7L102.8 168.2M118.8 162.3L118.8 171.8M124.6 159.9L124.6 169.4M102.8 158.7L108.6 156.3L124.6 159.9L118.8 162.3ZM102.8 168.2L118.8 171.8L124.6 169.4" fill="none" stroke="#282828" stroke-opacity="0.7" stroke-width="0.55"/></g><use href="#bx2" opacity="0.9" style="mix-blend-mode:multiply"/>
<g id="bx3" opacity="0.66"><polygon points="137.4,104.0 148.3,99.4 165.6,103.3 165.6,122.9 154.7,127.5 137.4,123.6" fill="url(#h3)"/><polygon points="137.4,104.0 148.3,99.4 165.6,103.3 165.6,122.9 154.7,127.5 137.4,123.6" fill="url(#v3)" mask="url(#mk3)"/><polygon points="137.4,123.6 148.3,119.0 165.6,122.9 154.7,127.5" fill="url(#b3)" fill-opacity="0.35"/><polygon points="137.4,123.6 154.7,127.5 157.3,126.4 140.0,122.5" fill="#f4e250" fill-opacity="0.52"/><polygon points="154.7,127.5 165.6,122.9 163.2,122.4 152.3,127.0" fill="#eee660" fill-opacity="0.36"/><polygon points="137.4,104.0 148.3,99.4 165.6,103.3 154.7,107.9" fill="url(#t3)" fill-opacity="0.8"/><path d="M148.3 99.4L148.3 119.0M137.4 123.6L148.3 119.0L165.6 122.9" fill="none" stroke="#241c14" stroke-opacity="0.8" stroke-width="0.6"/><path d="M137.4 104.0L137.4 123.6M154.7 107.9L154.7 127.5M165.6 103.3L165.6 122.9M137.4 104.0L148.3 99.4L165.6 103.3L154.7 107.9ZM137.4 123.6L154.7 127.5L165.6 122.9" fill="none" stroke="#282828" stroke-opacity="0.7" stroke-width="0.55"/></g><use href="#bx3" opacity="0.9" style="mix-blend-mode:multiply"/>
<g id="bx4" opacity="0.66"><polygon points="153.9,116.2 160.2,113.5 176.0,117.1 176.0,135.7 169.7,138.4 153.9,134.8" fill="url(#h4)"/><polygon points="153.9,116.2 160.2,113.5 176.0,117.1 176.0,135.7 169.7,138.4 153.9,134.8" fill="url(#v4)" mask="url(#mk4)"/><polygon points="153.9,134.8 160.2,132.1 176.0,135.7 169.7,138.4" fill="url(#b4)" fill-opacity="0.35"/><polygon points="153.9,134.8 169.7,138.4 172.3,137.3 156.5,133.7" fill="#f4e250" fill-opacity="0.52"/><polygon points="169.7,138.4 176.0,135.7 173.6,135.2 167.3,137.8" fill="#eee660" fill-opacity="0.36"/><polygon points="153.9,116.2 160.2,113.5 176.0,117.1 169.7,119.8" fill="url(#t4)" fill-opacity="0.8"/><path d="M160.2 113.5L160.2 132.1M153.9 134.8L160.2 132.1L176.0 135.7" fill="none" stroke="#241c14" stroke-opacity="0.8" stroke-width="0.6"/><path d="M153.9 116.2L153.9 134.8M169.7 119.8L169.7 138.4M176.0 117.1L176.0 135.7M153.9 116.2L160.2 113.5L176.0 117.1L169.7 119.8ZM153.9 134.8L169.7 138.4L176.0 135.7" fill="none" stroke="#282828" stroke-opacity="0.7" stroke-width="0.55"/></g><use href="#bx4" opacity="0.9" style="mix-blend-mode:multiply"/>
<g id="bx5" opacity="0.66"><polygon points="125.4,131.3 137.7,126.1 155.1,130.0 155.1,210.2 142.8,215.4 125.4,211.5" fill="url(#h5)"/><polygon points="125.4,131.3 137.7,126.1 155.1,130.0 155.1,210.2 142.8,215.4 125.4,211.5" fill="url(#v5)" mask="url(#mk5)"/><polygon points="125.4,211.5 137.7,206.3 155.1,210.2 142.8,215.4" fill="url(#b5)" fill-opacity="0.35"/><polygon points="125.4,211.5 142.8,215.4 145.4,214.3 128.0,210.4" fill="#f4e250" fill-opacity="0.52"/><polygon points="142.8,215.4 155.1,210.2 152.7,209.7 140.4,214.9" fill="#eee660" fill-opacity="0.36"/><polygon points="125.4,131.3 137.7,126.1 155.1,130.0 142.8,135.2" fill="url(#t5)" fill-opacity="0.8"/><path d="M137.7 126.1L137.7 206.3M125.4 211.5L137.7 206.3L155.1 210.2" fill="none" stroke="#241c14" stroke-opacity="0.8" stroke-width="0.6"/><path d="M125.4 131.3L125.4 211.5M142.8 135.2L142.8 215.4M155.1 130.0L155.1 210.2M125.4 131.3L137.7 126.1L155.1 130.0L142.8 135.2ZM125.4 211.5L142.8 215.4L155.1 210.2" fill="none" stroke="#282828" stroke-opacity="0.7" stroke-width="0.55"/></g><use href="#bx5" opacity="0.9" style="mix-blend-mode:multiply"/>
<g id="bx6" opacity="0.66"><polygon points="176.9,108.7 181.9,106.6 191.9,108.8 191.9,209.1 186.9,211.3 176.9,209.0" fill="url(#h6)"/><polygon points="176.9,108.7 181.9,106.6 191.9,108.8 191.9,209.1 186.9,211.3 176.9,209.0" fill="url(#v6)" mask="url(#mk6)"/><polygon points="176.9,209.0 181.9,206.9 191.9,209.1 186.9,211.3" fill="url(#b6)" fill-opacity="0.35"/><polygon points="176.9,209.0 186.9,211.3 189.4,210.2 179.4,207.9" fill="#f4e250" fill-opacity="0.52"/><polygon points="186.9,211.3 191.9,209.1 189.5,208.6 184.5,210.7" fill="#eee660" fill-opacity="0.36"/><polygon points="176.9,108.7 181.9,106.6 191.9,108.8 186.9,111.0" fill="url(#t6)" fill-opacity="0.8"/><path d="M181.9 106.6L181.9 206.9M176.9 209.0L181.9 206.9L191.9 209.1" fill="none" stroke="#241c14" stroke-opacity="0.8" stroke-width="0.6"/><path d="M176.9 108.7L176.9 209.0M186.9 111.0L186.9 211.3M191.9 108.8L191.9 209.1M176.9 108.7L181.9 106.6L191.9 108.8L186.9 111.0ZM176.9 209.0L186.9 211.3L191.9 209.1" fill="none" stroke="#282828" stroke-opacity="0.7" stroke-width="0.55"/></g><use href="#bx6" opacity="0.9" style="mix-blend-mode:multiply"/>
<g id="bx7" opacity="0.66"><polygon points="176.4,92.4 188.8,87.2 206.0,91.0 206.0,221.0 193.6,226.3 176.4,222.4" fill="url(#h7)"/><polygon points="176.4,92.4 188.8,87.2 206.0,91.0 206.0,221.0 193.6,226.3 176.4,222.4" fill="url(#v7)" mask="url(#mk7)"/><polygon points="176.4,222.4 188.8,217.2 206.0,221.0 193.6,226.3" fill="url(#b7)" fill-opacity="0.35"/><polygon points="176.4,222.4 193.6,226.3 196.2,225.2 179.0,221.3" fill="#f4e250" fill-opacity="0.52"/><polygon points="193.6,226.3 206.0,221.0 203.6,220.5 191.2,225.7" fill="#eee660" fill-opacity="0.36"/><polygon points="176.4,92.4 188.8,87.2 206.0,91.0 193.6,96.3" fill="url(#t7)" fill-opacity="0.8"/><path d="M188.8 87.2L188.8 217.2M176.4 222.4L188.8 217.2L206.0 221.0" fill="none" stroke="#241c14" stroke-opacity="0.8" stroke-width="0.6"/><path d="M176.4 92.4L176.4 222.4M193.6 96.3L193.6 226.3M206.0 91.0L206.0 221.0M176.4 92.4L188.8 87.2L206.0 91.0L193.6 96.3ZM176.4 222.4L193.6 226.3L206.0 221.0" fill="none" stroke="#282828" stroke-opacity="0.7" stroke-width="0.55"/></g><use href="#bx7" opacity="0.9" style="mix-blend-mode:multiply"/>
<g id="bx8" opacity="0.66"><polygon points="185.5,153.3 191.0,151.0 202.5,153.6 202.5,163.8 197.0,166.1 185.5,163.5" fill="url(#h8)"/><polygon points="185.5,153.3 191.0,151.0 202.5,153.6 202.5,163.8 197.0,166.1 185.5,163.5" fill="url(#v8)" mask="url(#mk8)"/><polygon points="185.5,163.5 191.0,161.2 202.5,163.8 197.0,166.1" fill="url(#b8)" fill-opacity="0.35"/><polygon points="185.5,163.5 197.0,166.1 199.6,165.0 188.1,162.4" fill="#f4e250" fill-opacity="0.52"/><polygon points="197.0,166.1 202.5,163.8 200.1,163.2 194.6,165.6" fill="#eee660" fill-opacity="0.36"/><polygon points="185.5,153.3 191.0,151.0 202.5,153.6 197.0,155.9" fill="url(#t8)" fill-opacity="0.8"/><path d="M191.0 151.0L191.0 161.2M185.5 163.5L191.0 161.2L202.5 163.8" fill="none" stroke="#241c14" stroke-opacity="0.8" stroke-width="0.6"/><path d="M185.5 153.3L185.5 163.5M197.0 155.9L197.0 166.1M202.5 153.6L202.5 163.8M185.5 153.3L191.0 151.0L202.5 153.6L197.0 155.9ZM185.5 163.5L197.0 166.1L202.5 163.8" fill="none" stroke="#282828" stroke-opacity="0.7" stroke-width="0.55"/></g><use href="#bx8" opacity="0.9" style="mix-blend-mode:multiply"/>
<g id="bx9" opacity="0.66"><polygon points="192.2,142.4 204.5,137.2 212.7,139.1 212.7,158.5 200.4,163.6 192.2,161.8" fill="url(#h9)"/><polygon points="192.2,142.4 204.5,137.2 212.7,139.1 212.7,158.5 200.4,163.6 192.2,161.8" fill="url(#v9)" mask="url(#mk9)"/><polygon points="192.2,161.8 204.5,156.6 212.7,158.5 200.4,163.6" fill="url(#b9)" fill-opacity="0.35"/><polygon points="192.2,161.8 200.4,163.6 203.0,162.6 194.8,160.7" fill="#f4e250" fill-opacity="0.52"/><polygon points="200.4,163.6 212.7,158.5 210.3,157.9 198.0,163.1" fill="#eee660" fill-opacity="0.36"/><polygon points="192.2,142.4 204.5,137.2 212.7,139.1 200.4,144.2" fill="url(#t9)" fill-opacity="0.8"/><path d="M204.5 137.2L204.5 156.6M192.2 161.8L204.5 156.6L212.7 158.5" fill="none" stroke="#241c14" stroke-opacity="0.8" stroke-width="0.6"/><path d="M192.2 142.4L192.2 161.8M200.4 144.2L200.4 163.6M212.7 139.1L212.7 158.5M192.2 142.4L204.5 137.2L212.7 139.1L200.4 144.2ZM192.2 161.8L200.4 163.6L212.7 158.5" fill="none" stroke="#282828" stroke-opacity="0.7" stroke-width="0.55"/></g><use href="#bx9" opacity="0.9" style="mix-blend-mode:multiply"/>
<g id="bx10" opacity="0.66"><polygon points="209.5,122.0 215.3,119.6 230.9,123.1 230.9,197.6 225.1,200.0 209.5,196.5" fill="url(#h10)"/><polygon points="209.5,122.0 215.3,119.6 230.9,123.1 230.9,197.6 225.1,200.0 209.5,196.5" fill="url(#v10)" mask="url(#mk10)"/><polygon points="209.5,196.5 215.3,194.1 230.9,197.6 225.1,200.0" fill="url(#b10)" fill-opacity="0.35"/><polygon points="209.5,196.5 225.1,200.0 227.7,198.9 212.1,195.4" fill="#f4e250" fill-opacity="0.52"/><polygon points="225.1,200.0 230.9,197.6 228.5,197.0 222.7,199.5" fill="#eee660" fill-opacity="0.36"/><polygon points="209.5,122.0 215.3,119.6 230.9,123.1 225.1,125.5" fill="url(#t10)" fill-opacity="0.8"/><path d="M215.3 119.6L215.3 194.1M209.5 196.5L215.3 194.1L230.9 197.6" fill="none" stroke="#241c14" stroke-opacity="0.8" stroke-width="0.6"/><path d="M209.5 122.0L209.5 196.5M225.1 125.5L225.1 200.0M230.9 123.1L230.9 197.6M209.5 122.0L215.3 119.6L230.9 123.1L225.1 125.5ZM209.5 196.5L225.1 200.0L230.9 197.6" fill="none" stroke="#282828" stroke-opacity="0.7" stroke-width="0.55"/></g><use href="#bx10" opacity="0.9" style="mix-blend-mode:multiply"/>
<g id="bx11" opacity="0.66"><polygon points="220.4,80.4 233.1,75.0 250.0,78.9 250.0,216.7 237.3,222.0 220.4,218.2" fill="url(#h11)"/><polygon points="220.4,80.4 233.1,75.0 250.0,78.9 250.0,216.7 237.3,222.0 220.4,218.2" fill="url(#v11)" mask="url(#mk11)"/><polygon points="220.4,218.2 233.1,212.8 250.0,216.7 237.3,222.0" fill="url(#b11)" fill-opacity="0.35"/><polygon points="220.4,218.2 237.3,222.0 239.9,220.9 223.0,217.1" fill="#f4e250" fill-opacity="0.52"/><polygon points="237.3,222.0 250.0,216.7 247.6,216.1 234.9,221.5" fill="#eee660" fill-opacity="0.36"/><polygon points="220.4,80.4 233.1,75.0 250.0,78.9 237.3,84.2" fill="url(#t11)" fill-opacity="0.8"/><path d="M233.1 75.0L233.1 212.8M220.4 218.2L233.1 212.8L250.0 216.7" fill="none" stroke="#241c14" stroke-opacity="0.8" stroke-width="0.6"/><path d="M220.4 80.4L220.4 218.2M237.3 84.2L237.3 222.0M250.0 78.9L250.0 216.7M220.4 80.4L233.1 75.0L250.0 78.9L237.3 84.2ZM220.4 218.2L237.3 222.0L250.0 216.7" fill="none" stroke="#282828" stroke-opacity="0.7" stroke-width="0.55"/></g><use href="#bx11" opacity="0.9" style="mix-blend-mode:multiply"/>
<g id="bx12" opacity="0.66"><polygon points="217.8,167.7 230.5,162.3 238.8,164.2 238.8,202.5 226.1,207.9 217.8,206.0" fill="url(#h12)"/><polygon points="217.8,167.7 230.5,162.3 238.8,164.2 238.8,202.5 226.1,207.9 217.8,206.0" fill="url(#v12)" mask="url(#mk12)"/><polygon points="217.8,206.0 230.5,200.6 238.8,202.5 226.1,207.9" fill="url(#b12)" fill-opacity="0.35"/><polygon points="217.8,206.0 226.1,207.9 228.7,206.8 220.4,204.9" fill="#f4e250" fill-opacity="0.52"/><polygon points="226.1,207.9 238.8,202.5 236.4,202.0 223.7,207.3" fill="#eee660" fill-opacity="0.36"/><polygon points="217.8,167.7 230.5,162.3 238.8,164.2 226.1,169.6" fill="url(#t12)" fill-opacity="0.8"/><path d="M230.5 162.3L230.5 200.6M217.8 206.0L230.5 200.6L238.8 202.5" fill="none" stroke="#241c14" stroke-opacity="0.8" stroke-width="0.6"/><path d="M217.8 167.7L217.8 206.0M226.1 169.6L226.1 207.9M238.8 164.2L238.8 202.5M217.8 167.7L230.5 162.3L238.8 164.2L226.1 169.6ZM217.8 206.0L226.1 207.9L238.8 202.5" fill="none" stroke="#282828" stroke-opacity="0.7" stroke-width="0.55"/></g><use href="#bx12" opacity="0.9" style="mix-blend-mode:multiply"/>
<g id="bx13" opacity="0.66"><polygon points="209.5,178.5 215.3,176.1 224.2,178.1 224.2,196.1 218.4,198.5 209.5,196.5" fill="url(#h13)"/><polygon points="209.5,178.5 215.3,176.1 224.2,178.1 224.2,196.1 218.4,198.5 209.5,196.5" fill="url(#v13)" mask="url(#mk13)"/><polygon points="209.5,196.5 215.3,194.1 224.2,196.1 218.4,198.5" fill="url(#b13)" fill-opacity="0.35"/><polygon points="209.5,196.5 218.4,198.5 221.0,197.4 212.1,195.4" fill="#f4e250" fill-opacity="0.52"/><polygon points="218.4,198.5 224.2,196.1 221.8,195.5 216.0,198.0" fill="#eee660" fill-opacity="0.36"/><polygon points="209.5,178.5 215.3,176.1 224.2,178.1 218.4,180.5" fill="url(#t13)" fill-opacity="0.8"/><path d="M215.3 176.1L215.3 194.1M209.5 196.5L215.3 194.1L224.2 196.1" fill="none" stroke="#241c14" stroke-opacity="0.8" stroke-width="0.6"/><path d="M209.5 178.5L209.5 196.5M218.4 180.5L218.4 198.5M224.2 178.1L224.2 196.1M209.5 178.5L215.3 176.1L224.2 178.1L218.4 180.5ZM209.5 196.5L218.4 198.5L224.2 196.1" fill="none" stroke="#282828" stroke-opacity="0.7" stroke-width="0.55"/></g><use href="#bx13" opacity="0.9" style="mix-blend-mode:multiply"/>
<g id="bx14" opacity="0.66"><polygon points="237.5,158.2 242.7,156.0 258.5,159.6 258.5,171.7 253.3,173.9 237.5,170.3" fill="url(#h14)"/><polygon points="237.5,158.2 242.7,156.0 258.5,159.6 258.5,171.7 253.3,173.9 237.5,170.3" fill="url(#v14)" mask="url(#mk14)"/><polygon points="237.5,170.3 242.7,168.1 258.5,171.7 253.3,173.9" fill="url(#b14)" fill-opacity="0.35"/><polygon points="237.5,170.3 253.3,173.9 255.9,172.8 240.1,169.2" fill="#f4e250" fill-opacity="0.52"/><polygon points="253.3,173.9 258.5,171.7 256.1,171.1 250.9,173.3" fill="#eee660" fill-opacity="0.36"/><polygon points="237.5,158.2 242.7,156.0 258.5,159.6 253.3,161.8" fill="url(#t14)" fill-opacity="0.8"/><path d="M242.7 156.0L242.7 168.1M237.5 170.3L242.7 168.1L258.5 171.7" fill="none" stroke="#241c14" stroke-opacity="0.8" stroke-width="0.6"/><path d="M237.5 158.2L237.5 170.3M253.3 161.8L253.3 173.9M258.5 159.6L258.5 171.7M237.5 158.2L242.7 156.0L258.5 159.6L253.3 161.8ZM237.5 170.3L253.3 173.9L258.5 171.7" fill="none" stroke="#282828" stroke-opacity="0.7" stroke-width="0.55"/></g><use href="#bx14" opacity="0.9" style="mix-blend-mode:multiply"/>
<g id="bx15" opacity="0.66"><polygon points="230.9,112.7 237.3,110.0 254.5,113.9 254.5,233.9 248.1,236.6 230.9,232.7" fill="url(#h15)"/><polygon points="230.9,112.7 237.3,110.0 254.5,113.9 254.5,233.9 248.1,236.6 230.9,232.7" fill="url(#v15)" mask="url(#mk15)"/><polygon points="230.9,232.7 237.3,230.0 254.5,233.9 248.1,236.6" fill="url(#b15)" fill-opacity="0.35"/><polygon points="230.9,232.7 248.1,236.6 250.7,235.5 233.5,231.6" fill="#f4e250" fill-opacity="0.52"/><polygon points="248.1,236.6 254.5,233.9 252.1,233.3 245.7,236.0" fill="#eee660" fill-opacity="0.36"/><polygon points="230.9,112.7 237.3,110.0 254.5,113.9 248.1,116.6" fill="url(#t15)" fill-opacity="0.8"/><path d="M237.3 110.0L237.3 230.0M230.9 232.7L237.3 230.0L254.5 233.9" fill="none" stroke="#241c14" stroke-opacity="0.8" stroke-width="0.6"/><path d="M230.9 112.7L230.9 232.7M248.1 116.6L248.1 236.6M254.5 113.9L254.5 233.9M230.9 112.7L237.3 110.0L254.5 113.9L248.1 116.6ZM230.9 232.7L248.1 236.6L254.5 233.9" fill="none" stroke="#282828" stroke-opacity="0.7" stroke-width="0.55"/></g><use href="#bx15" opacity="0.9" style="mix-blend-mode:multiply"/>
<g id="bx16" opacity="0.66"><polygon points="257.9,166.5 270.0,161.4 278.7,163.4 278.7,181.9 266.6,187.0 257.9,185.0" fill="url(#h16)"/><polygon points="257.9,166.5 270.0,161.4 278.7,163.4 278.7,181.9 266.6,187.0 257.9,185.0" fill="url(#v16)" mask="url(#mk16)"/><polygon points="257.9,185.0 270.0,179.9 278.7,181.9 266.6,187.0" fill="url(#b16)" fill-opacity="0.35"/><polygon points="257.9,185.0 266.6,187.0 269.2,185.9 260.5,183.9" fill="#f4e250" fill-opacity="0.52"/><polygon points="266.6,187.0 278.7,181.9 276.3,181.3 264.2,186.4" fill="#eee660" fill-opacity="0.36"/><polygon points="257.9,166.5 270.0,161.4 278.7,163.4 266.6,168.5" fill="url(#t16)" fill-opacity="0.8"/><path d="M270.0 161.4L270.0 179.9M257.9 185.0L270.0 179.9L278.7 181.9" fill="none" stroke="#241c14" stroke-opacity="0.8" stroke-width="0.6"/><path d="M257.9 166.5L257.9 185.0M266.6 168.5L266.6 187.0M278.7 163.4L278.7 181.9M257.9 166.5L270.0 161.4L278.7 163.4L266.6 168.5ZM257.9 185.0L266.6 187.0L278.7 181.9" fill="none" stroke="#282828" stroke-opacity="0.7" stroke-width="0.55"/></g><use href="#bx16" opacity="0.9" style="mix-blend-mode:multiply"/>
<g id="bx17" opacity="0.66"><polygon points="262.2,196.4 273.6,191.6 283.3,193.8 283.3,200.1 271.9,204.9 262.2,202.7" fill="url(#h17)"/><polygon points="262.2,196.4 273.6,191.6 283.3,193.8 283.3,200.1 271.9,204.9 262.2,202.7" fill="url(#v17)" mask="url(#mk17)"/><polygon points="262.2,202.7 273.6,197.9 283.3,200.1 271.9,204.9" fill="url(#b17)" fill-opacity="0.35"/><polygon points="262.2,202.7 271.9,204.9 274.5,203.8 264.8,201.6" fill="#f4e250" fill-opacity="0.52"/><polygon points="271.9,204.9 283.3,200.1 280.9,199.5 269.5,204.3" fill="#eee660" fill-opacity="0.36"/><polygon points="262.2,196.4 273.6,191.6 283.3,193.8 271.9,198.6" fill="url(#t17)" fill-opacity="0.8"/><path d="M273.6 191.6L273.6 197.9M262.2 202.7L273.6 197.9L283.3 200.1" fill="none" stroke="#241c14" stroke-opacity="0.8" stroke-width="0.6"/><path d="M262.2 196.4L262.2 202.7M271.9 198.6L271.9 204.9M283.3 193.8L283.3 200.1M262.2 196.4L273.6 191.6L283.3 193.8L271.9 198.6ZM262.2 202.7L271.9 204.9L283.3 200.1" fill="none" stroke="#282828" stroke-opacity="0.7" stroke-width="0.55"/></g><use href="#bx17" opacity="0.9" style="mix-blend-mode:multiply"/>
<g id="bx18" opacity="0.66"><polygon points="246.5,206.4 258.6,201.3 275.3,205.1 275.3,214.2 263.2,219.3 246.5,215.5" fill="url(#h18)"/><polygon points="246.5,206.4 258.6,201.3 275.3,205.1 275.3,214.2 263.2,219.3 246.5,215.5" fill="url(#v18)" mask="url(#mk18)"/><polygon points="246.5,215.5 258.6,210.4 275.3,214.2 263.2,219.3" fill="url(#b18)" fill-opacity="0.35"/><polygon points="246.5,215.5 263.2,219.3 265.8,218.2 249.1,214.4" fill="#f4e250" fill-opacity="0.52"/><polygon points="263.2,219.3 275.3,214.2 272.9,213.6 260.8,218.7" fill="#eee660" fill-opacity="0.36"/><polygon points="246.5,206.4 258.6,201.3 275.3,205.1 263.2,210.2" fill="url(#t18)" fill-opacity="0.8"/><path d="M258.6 201.3L258.6 210.4M246.5 215.5L258.6 210.4L275.3 214.2" fill="none" stroke="#241c14" stroke-opacity="0.8" stroke-width="0.6"/><path d="M246.5 206.4L246.5 215.5M263.2 210.2L263.2 219.3M275.3 205.1L275.3 214.2M246.5 206.4L258.6 201.3L275.3 205.1L263.2 210.2ZM246.5 215.5L263.2 219.3L275.3 214.2" fill="none" stroke="#282828" stroke-opacity="0.7" stroke-width="0.55"/></g><use href="#bx18" opacity="0.9" style="mix-blend-mode:multiply"/>
<g id="bx19" opacity="0.66"><polygon points="283.3,116.7 295.5,111.6 304.5,113.6 304.5,241.4 292.3,246.5 283.3,244.5" fill="url(#h19)"/><polygon points="283.3,116.7 295.5,111.6 304.5,113.6 304.5,241.4 292.3,246.5 283.3,244.5" fill="url(#v19)" mask="url(#mk19)"/><polygon points="283.3,244.5 295.5,239.4 304.5,241.4 292.3,246.5" fill="url(#b19)" fill-opacity="0.35"/><polygon points="283.3,244.5 292.3,246.5 294.9,245.4 285.9,243.4" fill="#f4e250" fill-opacity="0.52"/><polygon points="292.3,246.5 304.5,241.4 302.1,240.8 289.9,246.0" fill="#eee660" fill-opacity="0.36"/><polygon points="283.3,116.7 295.5,111.6 304.5,113.6 292.3,118.7" fill="url(#t19)" fill-opacity="0.8"/><path d="M295.5 111.6L295.5 239.4M283.3 244.5L295.5 239.4L304.5 241.4" fill="none" stroke="#241c14" stroke-opacity="0.8" stroke-width="0.6"/><path d="M283.3 116.7L283.3 244.5M292.3 118.7L292.3 246.5M304.5 113.6L304.5 241.4M283.3 116.7L295.5 111.6L304.5 113.6L292.3 118.7ZM283.3 244.5L292.3 246.5L304.5 241.4" fill="none" stroke="#282828" stroke-opacity="0.7" stroke-width="0.55"/></g><use href="#bx19" opacity="0.9" style="mix-blend-mode:multiply"/>
<g id="bx20" opacity="0.66"><polygon points="275.5,221.8 281.8,219.1 299.1,223.0 299.1,232.1 292.8,234.8 275.5,230.9" fill="url(#h20)"/><polygon points="275.5,221.8 281.8,219.1 299.1,223.0 299.1,232.1 292.8,234.8 275.5,230.9" fill="url(#v20)" mask="url(#mk20)"/><polygon points="275.5,230.9 281.8,228.2 299.1,232.1 292.8,234.8" fill="url(#b20)" fill-opacity="0.35"/><polygon points="275.5,230.9 292.8,234.8 295.4,233.7 278.1,229.8" fill="#f4e250" fill-opacity="0.52"/><polygon points="292.8,234.8 299.1,232.1 296.7,231.6 290.4,234.3" fill="#eee660" fill-opacity="0.36"/><polygon points="275.5,221.8 281.8,219.1 299.1,223.0 292.8,225.7" fill="url(#t20)" fill-opacity="0.8"/><path d="M281.8 219.1L281.8 228.2M275.5 230.9L281.8 228.2L299.1 232.1" fill="none" stroke="#241c14" stroke-opacity="0.8" stroke-width="0.6"/><path d="M275.5 221.8L275.5 230.9M292.8 225.7L292.8 234.8M299.1 223.0L299.1 232.1M275.5 221.8L281.8 219.1L299.1 223.0L292.8 225.7ZM275.5 230.9L292.8 234.8L299.1 232.1" fill="none" stroke="#282828" stroke-opacity="0.7" stroke-width="0.55"/></g><use href="#bx20" opacity="0.9" style="mix-blend-mode:multiply"/>
<g id="bx21" opacity="0.66"><polygon points="323.3,173.5 335.7,168.3 352.5,172.1 352.5,241.7 340.1,246.9 323.3,243.1" fill="url(#h21)"/><polygon points="323.3,173.5 335.7,168.3 352.5,172.1 352.5,241.7 340.1,246.9 323.3,243.1" fill="url(#v21)" mask="url(#mk21)"/><polygon points="323.3,243.1 335.7,237.9 352.5,241.7 340.1,246.9" fill="url(#b21)" fill-opacity="0.35"/><polygon points="323.3,243.1 340.1,246.9 342.7,245.8 325.9,242.0" fill="#f4e250" fill-opacity="0.52"/><polygon points="340.1,246.9 352.5,241.7 350.1,241.1 337.7,246.3" fill="#eee660" fill-opacity="0.36"/><polygon points="323.3,173.5 335.7,168.3 352.5,172.1 340.1,177.3" fill="url(#t21)" fill-opacity="0.8"/><path d="M335.7 168.3L335.7 237.9M323.3 243.1L335.7 237.9L352.5 241.7" fill="none" stroke="#241c14" stroke-opacity="0.8" stroke-width="0.6"/><path d="M323.3 173.5L323.3 243.1M340.1 177.3L340.1 246.9M352.5 172.1L352.5 241.7M323.3 173.5L335.7 168.3L352.5 172.1L340.1 177.3ZM323.3 243.1L340.1 246.9L352.5 241.7" fill="none" stroke="#282828" stroke-opacity="0.7" stroke-width="0.55"/></g><use href="#bx21" opacity="0.9" style="mix-blend-mode:multiply"/>
<g id="bx22" opacity="0.66"><polygon points="290.6,183.6 302.6,178.5 319.9,182.4 319.9,205.8 307.9,210.9 290.6,207.0" fill="url(#h22)"/><polygon points="290.6,183.6 302.6,178.5 319.9,182.4 319.9,205.8 307.9,210.9 290.6,207.0" fill="url(#v22)" mask="url(#mk22)"/><polygon points="290.6,207.0 302.6,201.9 319.9,205.8 307.9,210.9" fill="url(#b22)" fill-opacity="0.35"/><polygon points="290.6,207.0 307.9,210.9 310.5,209.8 293.2,205.9" fill="#f4e250" fill-opacity="0.52"/><polygon points="307.9,210.9 319.9,205.8 317.5,205.3 305.5,210.4" fill="#eee660" fill-opacity="0.36"/><polygon points="290.6,183.6 302.6,178.5 319.9,182.4 307.9,187.5" fill="url(#t22)" fill-opacity="0.8"/><path d="M302.6 178.5L302.6 201.9M290.6 207.0L302.6 201.9L319.9 205.8" fill="none" stroke="#241c14" stroke-opacity="0.8" stroke-width="0.6"/><path d="M290.6 183.6L290.6 207.0M307.9 187.5L307.9 210.9M319.9 182.4L319.9 205.8M290.6 183.6L302.6 178.5L319.9 182.4L307.9 187.5ZM290.6 207.0L307.9 210.9L319.9 205.8" fill="none" stroke="#282828" stroke-opacity="0.7" stroke-width="0.55"/></g><use href="#bx22" opacity="0.9" style="mix-blend-mode:multiply"/>
<g id="bx23" opacity="0.66"><polygon points="312.3,185.9 317.8,183.6 335.2,187.5 335.2,215.2 329.7,217.5 312.3,213.6" fill="url(#h23)"/><polygon points="312.3,185.9 317.8,183.6 335.2,187.5 335.2,215.2 329.7,217.5 312.3,213.6" fill="url(#v23)" mask="url(#mk23)"/><polygon points="312.3,213.6 317.8,211.3 335.2,215.2 329.7,217.5" fill="url(#b23)" fill-opacity="0.35"/><polygon points="312.3,213.6 329.7,217.5 332.3,216.4 314.9,212.5" fill="#f4e250" fill-opacity="0.52"/><polygon points="329.7,217.5 335.2,215.2 332.8,214.7 327.3,217.0" fill="#eee660" fill-opacity="0.36"/><polygon points="312.3,185.9 317.8,183.6 335.2,187.5 329.7,189.8" fill="url(#t23)" fill-opacity="0.8"/><path d="M317.8 183.6L317.8 211.3M312.3 213.6L317.8 211.3L335.2 215.2" fill="none" stroke="#241c14" stroke-opacity="0.8" stroke-width="0.6"/><path d="M312.3 185.9L312.3 213.6M329.7 189.8L329.7 217.5M335.2 187.5L335.2 215.2M312.3 185.9L317.8 183.6L335.2 187.5L329.7 189.8ZM312.3 213.6L329.7 217.5L335.2 215.2" fill="none" stroke="#282828" stroke-opacity="0.7" stroke-width="0.55"/></g><use href="#bx23" opacity="0.9" style="mix-blend-mode:multiply"/>
<g id="bx24" opacity="0.66"><polygon points="305.0,192.7 311.0,190.2 320.0,192.2 320.0,214.5 314.0,217.0 305.0,215.0" fill="url(#h24)"/><polygon points="305.0,192.7 311.0,190.2 320.0,192.2 320.0,214.5 314.0,217.0 305.0,215.0" fill="url(#v24)" mask="url(#mk24)"/><polygon points="305.0,215.0 311.0,212.5 320.0,214.5 314.0,217.0" fill="url(#b24)" fill-opacity="0.35"/><polygon points="305.0,215.0 314.0,217.0 316.6,215.9 307.6,213.9" fill="#f4e250" fill-opacity="0.52"/><polygon points="314.0,217.0 320.0,214.5 317.6,214.0 311.6,216.5" fill="#eee660" fill-opacity="0.36"/><polygon points="305.0,192.7 311.0,190.2 320.0,192.2 314.0,194.7" fill="url(#t24)" fill-opacity="0.8"/><path d="M311.0 190.2L311.0 212.5M305.0 215.0L311.0 212.5L320.0 214.5" fill="none" stroke="#241c14" stroke-opacity="0.8" stroke-width="0.6"/><path d="M305.0 192.7L305.0 215.0M314.0 194.7L314.0 217.0M320.0 192.2L320.0 214.5M305.0 192.7L311.0 190.2L320.0 192.2L314.0 194.7ZM305.0 215.0L314.0 217.0L320.0 214.5" fill="none" stroke="#282828" stroke-opacity="0.7" stroke-width="0.55"/></g><use href="#bx24" opacity="0.9" style="mix-blend-mode:multiply"/>
<g id="bx25" opacity="0.66"><polygon points="339.1,158.2 350.9,153.2 360.0,155.3 360.0,165.1 348.2,170.1 339.1,168.0" fill="url(#h25)"/><polygon points="339.1,158.2 350.9,153.2 360.0,155.3 360.0,165.1 348.2,170.1 339.1,168.0" fill="url(#v25)" mask="url(#mk25)"/><polygon points="339.1,168.0 350.9,163.0 360.0,165.1 348.2,170.1" fill="url(#b25)" fill-opacity="0.35"/><polygon points="339.1,168.0 348.2,170.1 350.8,169.0 341.7,166.9" fill="#f4e250" fill-opacity="0.52"/><polygon points="348.2,170.1 360.0,165.1 357.6,164.5 345.8,169.5" fill="#eee660" fill-opacity="0.36"/><polygon points="339.1,158.2 350.9,153.2 360.0,155.3 348.2,160.3" fill="url(#t25)" fill-opacity="0.8"/><path d="M350.9 153.2L350.9 163.0M339.1 168.0L350.9 163.0L360.0 165.1" fill="none" stroke="#241c14" stroke-opacity="0.8" stroke-width="0.6"/><path d="M339.1 158.2L339.1 168.0M348.2 160.3L348.2 170.1M360.0 155.3L360.0 165.1M339.1 158.2L350.9 153.2L360.0 155.3L348.2 160.3ZM339.1 168.0L348.2 170.1L360.0 165.1" fill="none" stroke="#282828" stroke-opacity="0.7" stroke-width="0.55"/></g><use href="#bx25" opacity="0.9" style="mix-blend-mode:multiply"/>
<g id="bx26" opacity="0.66"><polygon points="345.5,163.6 351.0,161.3 368.8,165.3 368.8,175.0 363.3,177.3 345.5,173.3" fill="url(#h26)"/><polygon points="345.5,163.6 351.0,161.3 368.8,165.3 368.8,175.0 363.3,177.3 345.5,173.3" fill="url(#v26)" mask="url(#mk26)"/><polygon points="345.5,173.3 351.0,171.0 368.8,175.0 363.3,177.3" fill="url(#b26)" fill-opacity="0.35"/><polygon points="345.5,173.3 363.3,177.3 365.9,176.2 348.1,172.2" fill="#f4e250" fill-opacity="0.52"/><polygon points="363.3,177.3 368.8,175.0 366.4,174.4 360.9,176.8" fill="#eee660" fill-opacity="0.36"/><polygon points="345.5,163.6 351.0,161.3 368.8,165.3 363.3,167.6" fill="url(#t26)" fill-opacity="0.8"/><path d="M351.0 161.3L351.0 171.0M345.5 173.3L351.0 171.0L368.8 175.0" fill="none" stroke="#241c14" stroke-opacity="0.8" stroke-width="0.6"/><path d="M345.5 163.6L345.5 173.3M363.3 167.6L363.3 177.3M368.8 165.3L368.8 175.0M345.5 163.6L351.0 161.3L368.8 165.3L363.3 167.6ZM345.5 173.3L363.3 177.3L368.8 175.0" fill="none" stroke="#282828" stroke-opacity="0.7" stroke-width="0.55"/></g><use href="#bx26" opacity="0.9" style="mix-blend-mode:multiply"/>
<g id="bx27" opacity="0.66"><polygon points="304.5,236.4 317.3,231.0 333.9,234.7 333.9,243.8 321.1,249.2 304.5,245.5" fill="url(#h27)"/><polygon points="304.5,236.4 317.3,231.0 333.9,234.7 333.9,243.8 321.1,249.2 304.5,245.5" fill="url(#v27)" mask="url(#mk27)"/><polygon points="304.5,245.5 317.3,240.1 333.9,243.8 321.1,249.2" fill="url(#b27)" fill-opacity="0.35"/><polygon points="304.5,245.5 321.1,249.2 323.7,248.1 307.1,244.4" fill="#f4e250" fill-opacity="0.52"/><polygon points="321.1,249.2 333.9,243.8 331.5,243.3 318.7,248.7" fill="#eee660" fill-opacity="0.36"/><polygon points="304.5,236.4 317.3,231.0 333.9,234.7 321.1,240.1" fill="url(#t27)" fill-opacity="0.8"/><path d="M317.3 231.0L317.3 240.1M304.5 245.5L317.3 240.1L333.9 243.8" fill="none" stroke="#241c14" stroke-opacity="0.8" stroke-width="0.6"/><path d="M304.5 236.4L304.5 245.5M321.1 240.1L321.1 249.2M333.9 234.7L333.9 243.8M304.5 236.4L317.3 231.0L333.9 234.7L321.1 240.1ZM304.5 245.5L321.1 249.2L333.9 243.8" fill="none" stroke="#282828" stroke-opacity="0.7" stroke-width="0.55"/></g><use href="#bx27" opacity="0.9" style="mix-blend-mode:multiply"/>
<g id="bx28" opacity="0.66"><polygon points="375.5,89.6 381.8,86.9 389.8,88.7 389.8,238.3 383.5,241.0 375.5,239.2" fill="url(#h28)"/><polygon points="375.5,89.6 381.8,86.9 389.8,88.7 389.8,238.3 383.5,241.0 375.5,239.2" fill="url(#v28)" mask="url(#mk28)"/><polygon points="375.5,239.2 381.8,236.5 389.8,238.3 383.5,241.0" fill="url(#b28)" fill-opacity="0.35"/><polygon points="375.5,239.2 383.5,241.0 386.1,239.9 378.1,238.1" fill="#f4e250" fill-opacity="0.52"/><polygon points="383.5,241.0 389.8,238.3 387.4,237.8 381.1,240.5" fill="#eee660" fill-opacity="0.36"/><polygon points="375.5,89.6 381.8,86.9 389.8,88.7 383.5,91.4" fill="url(#t28)" fill-opacity="0.8"/><path d="M381.8 86.9L381.8 236.5M375.5 239.2L381.8 236.5L389.8 238.3" fill="none" stroke="#241c14" stroke-opacity="0.8" stroke-width="0.6"/><path d="M375.5 89.6L375.5 239.2M383.5 91.4L383.5 241.0M389.8 88.7L389.8 238.3M375.5 89.6L381.8 86.9L389.8 88.7L383.5 91.4ZM375.5 239.2L383.5 241.0L389.8 238.3" fill="none" stroke="#282828" stroke-opacity="0.7" stroke-width="0.55"/></g><use href="#bx28" opacity="0.9" style="mix-blend-mode:multiply"/>
<g id="bx29" opacity="0.66"><polygon points="382.4,103.6 388.4,101.1 396.9,103.0 396.9,254.1 390.9,256.6 382.4,254.7" fill="url(#h29)"/><polygon points="382.4,103.6 388.4,101.1 396.9,103.0 396.9,254.1 390.9,256.6 382.4,254.7" fill="url(#v29)" mask="url(#mk29)"/><polygon points="382.4,254.7 388.4,252.2 396.9,254.1 390.9,256.6" fill="url(#b29)" fill-opacity="0.35"/><polygon points="382.4,254.7 390.9,256.6 393.5,255.5 385.0,253.6" fill="#f4e250" fill-opacity="0.52"/><polygon points="390.9,256.6 396.9,254.1 394.5,253.5 388.5,256.1" fill="#eee660" fill-opacity="0.36"/><polygon points="382.4,103.6 388.4,101.1 396.9,103.0 390.9,105.5" fill="url(#t29)" fill-opacity="0.8"/><path d="M388.4 101.1L388.4 252.2M382.4 254.7L388.4 252.2L396.9 254.1" fill="none" stroke="#241c14" stroke-opacity="0.8" stroke-width="0.6"/><path d="M382.4 103.6L382.4 254.7M390.9 105.5L390.9 256.6M396.9 103.0L396.9 254.1M382.4 103.6L388.4 101.1L396.9 103.0L390.9 105.5ZM382.4 254.7L390.9 256.6L396.9 254.1" fill="none" stroke="#282828" stroke-opacity="0.7" stroke-width="0.55"/></g><use href="#bx29" opacity="0.9" style="mix-blend-mode:multiply"/>
<g id="bx30" opacity="0.66"><polygon points="352.2,223.1 358.6,220.4 375.5,224.2 375.5,244.1 369.1,246.8 352.2,243.0" fill="url(#h30)"/><polygon points="352.2,223.1 358.6,220.4 375.5,224.2 375.5,244.1 369.1,246.8 352.2,243.0" fill="url(#v30)" mask="url(#mk30)"/><polygon points="352.2,243.0 358.6,240.3 375.5,244.1 369.1,246.8" fill="url(#b30)" fill-opacity="0.35"/><polygon points="352.2,243.0 369.1,246.8 371.7,245.7 354.8,241.9" fill="#f4e250" fill-opacity="0.52"/><polygon points="369.1,246.8 375.5,244.1 373.1,243.6 366.7,246.3" fill="#eee660" fill-opacity="0.36"/><polygon points="352.2,223.1 358.6,220.4 375.5,224.2 369.1,226.9" fill="url(#t30)" fill-opacity="0.8"/><path d="M358.6 220.4L358.6 240.3M352.2 243.0L358.6 240.3L375.5 244.1" fill="none" stroke="#241c14" stroke-opacity="0.8" stroke-width="0.6"/><path d="M352.2 223.1L352.2 243.0M369.1 226.9L369.1 246.8M375.5 224.2L375.5 244.1M352.2 223.1L358.6 220.4L375.5 224.2L369.1 226.9ZM352.2 243.0L369.1 246.8L375.5 244.1" fill="none" stroke="#282828" stroke-opacity="0.7" stroke-width="0.55"/></g><use href="#bx30" opacity="0.9" style="mix-blend-mode:multiply"/>
<g id="bx31" opacity="0.66"><polygon points="363.6,217.3 369.1,215.0 379.1,217.2 379.1,226.3 373.6,228.7 363.6,226.4" fill="url(#h31)"/><polygon points="363.6,217.3 369.1,215.0 379.1,217.2 379.1,226.3 373.6,228.7 363.6,226.4" fill="url(#v31)" mask="url(#mk31)"/><polygon points="363.6,226.4 369.1,224.1 379.1,226.3 373.6,228.7" fill="url(#b31)" fill-opacity="0.35"/><polygon points="363.6,226.4 373.6,228.7 376.2,227.6 366.2,225.3" fill="#f4e250" fill-opacity="0.52"/><polygon points="373.6,228.7 379.1,226.3 376.7,225.8 371.2,228.1" fill="#eee660" fill-opacity="0.36"/><polygon points="363.6,217.3 369.1,215.0 379.1,217.2 373.6,219.6" fill="url(#t31)" fill-opacity="0.8"/><path d="M369.1 215.0L369.1 224.1M363.6 226.4L369.1 224.1L379.1 226.3" fill="none" stroke="#241c14" stroke-opacity="0.8" stroke-width="0.6"/><path d="M363.6 217.3L363.6 226.4M373.6 219.6L373.6 228.7M379.1 217.2L379.1 226.3M363.6 217.3L369.1 215.0L379.1 217.2L373.6 219.6ZM363.6 226.4L373.6 228.7L379.1 226.3" fill="none" stroke="#282828" stroke-opacity="0.7" stroke-width="0.55"/></g><use href="#bx31" opacity="0.9" style="mix-blend-mode:multiply"/>
<g id="bx32" opacity="0.66"><polygon points="384.5,216.9 390.9,214.2 408.2,218.1 408.2,267.6 401.8,270.3 384.5,266.4" fill="url(#h32)"/><polygon points="384.5,216.9 390.9,214.2 408.2,218.1 408.2,267.6 401.8,270.3 384.5,266.4" fill="url(#v32)" mask="url(#mk32)"/><polygon points="384.5,266.4 390.9,263.7 408.2,267.6 401.8,270.3" fill="url(#b32)" fill-opacity="0.35"/><polygon points="384.5,266.4 401.8,270.3 404.4,269.2 387.1,265.3" fill="#f4e250" fill-opacity="0.52"/><polygon points="401.8,270.3 408.2,267.6 405.8,267.1 399.4,269.8" fill="#eee660" fill-opacity="0.36"/><polygon points="384.5,216.9 390.9,214.2 408.2,218.1 401.8,220.8" fill="url(#t32)" fill-opacity="0.8"/><path d="M390.9 214.2L390.9 263.7M384.5 266.4L390.9 263.7L408.2 267.6" fill="none" stroke="#241c14" stroke-opacity="0.8" stroke-width="0.6"/><path d="M384.5 216.9L384.5 266.4M401.8 220.8L401.8 270.3M408.2 218.1L408.2 267.6M384.5 216.9L390.9 214.2L408.2 218.1L401.8 220.8ZM384.5 266.4L401.8 270.3L408.2 267.6" fill="none" stroke="#282828" stroke-opacity="0.7" stroke-width="0.55"/></g><use href="#bx32" opacity="0.9" style="mix-blend-mode:multiply"/>
<g id="bx33" opacity="0.66"><polygon points="416.4,180.2 425.4,176.4 436.4,178.9 436.4,237.8 427.4,241.6 416.4,239.1" fill="url(#h33)"/><polygon points="416.4,180.2 425.4,176.4 436.4,178.9 436.4,237.8 427.4,241.6 416.4,239.1" fill="url(#v33)" mask="url(#mk33)"/><polygon points="416.4,239.1 425.4,235.3 436.4,237.8 427.4,241.6" fill="url(#b33)" fill-opacity="0.35"/><polygon points="416.4,239.1 427.4,241.6 430.0,240.5 419.0,238.0" fill="#f4e250" fill-opacity="0.52"/><polygon points="427.4,241.6 436.4,237.8 434.0,237.2 425.0,241.0" fill="#eee660" fill-opacity="0.36"/><polygon points="416.4,180.2 425.4,176.4 436.4,178.9 427.4,182.7" fill="url(#t33)" fill-opacity="0.8"/><path d="M425.4 176.4L425.4 235.3M416.4 239.1L425.4 235.3L436.4 237.8" fill="none" stroke="#241c14" stroke-opacity="0.8" stroke-width="0.6"/><path d="M416.4 180.2L416.4 239.1M427.4 182.7L427.4 241.6M436.4 178.9L436.4 237.8M416.4 180.2L425.4 176.4L436.4 178.9L427.4 182.7ZM416.4 239.1L427.4 241.6L436.4 237.8" fill="none" stroke="#282828" stroke-opacity="0.7" stroke-width="0.55"/></g><use href="#bx33" opacity="0.9" style="mix-blend-mode:multiply"/>
<g id="bx34" opacity="0.66"><polygon points="425.9,191.9 431.9,189.4 440.9,191.4 440.9,242.5 434.9,245.0 425.9,243.0" fill="url(#h34)"/><polygon points="425.9,191.9 431.9,189.4 440.9,191.4 440.9,242.5 434.9,245.0 425.9,243.0" fill="url(#v34)" mask="url(#mk34)"/><polygon points="425.9,243.0 431.9,240.5 440.9,242.5 434.9,245.0" fill="url(#b34)" fill-opacity="0.35"/><polygon points="425.9,243.0 434.9,245.0 437.5,243.9 428.5,241.9" fill="#f4e250" fill-opacity="0.52"/><polygon points="434.9,245.0 440.9,242.5 438.5,242.0 432.5,244.5" fill="#eee660" fill-opacity="0.36"/><polygon points="425.9,191.9 431.9,189.4 440.9,191.4 434.9,193.9" fill="url(#t34)" fill-opacity="0.8"/><path d="M431.9 189.4L431.9 240.5M425.9 243.0L431.9 240.5L440.9 242.5" fill="none" stroke="#241c14" stroke-opacity="0.8" stroke-width="0.6"/><path d="M425.9 191.9L425.9 243.0M434.9 193.9L434.9 245.0M440.9 191.4L440.9 242.5M425.9 191.9L431.9 189.4L440.9 191.4L434.9 193.9ZM425.9 243.0L434.9 245.0L440.9 242.5" fill="none" stroke="#282828" stroke-opacity="0.7" stroke-width="0.55"/></g><use href="#bx34" opacity="0.9" style="mix-blend-mode:multiply"/>
<g id="bx35" opacity="0.66"><polygon points="403.4,189.1 409.6,186.5 426.1,190.2 426.1,210.6 419.9,213.2 403.4,209.5" fill="url(#h35)"/><polygon points="403.4,189.1 409.6,186.5 426.1,190.2 426.1,210.6 419.9,213.2 403.4,209.5" fill="url(#v35)" mask="url(#mk35)"/><polygon points="403.4,209.5 409.6,206.9 426.1,210.6 419.9,213.2" fill="url(#b35)" fill-opacity="0.35"/><polygon points="403.4,209.5 419.9,213.2 422.5,212.1 406.0,208.4" fill="#f4e250" fill-opacity="0.52"/><polygon points="419.9,213.2 426.1,210.6 423.7,210.1 417.5,212.7" fill="#eee660" fill-opacity="0.36"/><polygon points="403.4,189.1 409.6,186.5 426.1,190.2 419.9,192.8" fill="url(#t35)" fill-opacity="0.8"/><path d="M409.6 186.5L409.6 206.9M403.4 209.5L409.6 206.9L426.1 210.6" fill="none" stroke="#241c14" stroke-opacity="0.8" stroke-width="0.6"/><path d="M403.4 189.1L403.4 209.5M419.9 192.8L419.9 213.2M426.1 190.2L426.1 210.6M403.4 189.1L409.6 186.5L426.1 190.2L419.9 192.8ZM403.4 209.5L419.9 213.2L426.1 210.6" fill="none" stroke="#282828" stroke-opacity="0.7" stroke-width="0.55"/></g><use href="#bx35" opacity="0.9" style="mix-blend-mode:multiply"/>
<g id="bx36" opacity="0.66"><polygon points="400.8,206.7 405.8,204.6 415.3,206.7 415.3,215.5 410.3,217.6 400.8,215.5" fill="url(#h36)"/><polygon points="400.8,206.7 405.8,204.6 415.3,206.7 415.3,215.5 410.3,217.6 400.8,215.5" fill="url(#v36)" mask="url(#mk36)"/><polygon points="400.8,215.5 405.8,213.4 415.3,215.5 410.3,217.6" fill="url(#b36)" fill-opacity="0.35"/><polygon points="400.8,215.5 410.3,217.6 412.8,216.6 403.3,214.4" fill="#f4e250" fill-opacity="0.52"/><polygon points="410.3,217.6 415.3,215.5 412.9,215.0 407.9,217.1" fill="#eee660" fill-opacity="0.36"/><polygon points="400.8,206.7 405.8,204.6 415.3,206.7 410.3,208.8" fill="url(#t36)" fill-opacity="0.8"/><path d="M405.8 204.6L405.8 213.4M400.8 215.5L405.8 213.4L415.3 215.5" fill="none" stroke="#241c14" stroke-opacity="0.8" stroke-width="0.6"/><path d="M400.8 206.7L400.8 215.5M410.3 208.8L410.3 217.6M415.3 206.7L415.3 215.5M400.8 206.7L405.8 204.6L415.3 206.7L410.3 208.8ZM400.8 215.5L410.3 217.6L415.3 215.5" fill="none" stroke="#282828" stroke-opacity="0.7" stroke-width="0.55"/></g><use href="#bx36" opacity="0.9" style="mix-blend-mode:multiply"/>
<g id="bx37" opacity="0.66"><polygon points="425.9,166.0 438.1,160.9 455.0,164.7 455.0,263.2 442.8,268.3 425.9,264.5" fill="url(#h37)"/><polygon points="425.9,166.0 438.1,160.9 455.0,164.7 455.0,263.2 442.8,268.3 425.9,264.5" fill="url(#v37)" mask="url(#mk37)"/><polygon points="425.9,264.5 438.1,259.4 455.0,263.2 442.8,268.3" fill="url(#b37)" fill-opacity="0.35"/><polygon points="425.9,264.5 442.8,268.3 445.4,267.2 428.5,263.4" fill="#f4e250" fill-opacity="0.52"/><polygon points="442.8,268.3 455.0,263.2 452.6,262.6 440.4,267.8" fill="#eee660" fill-opacity="0.36"/><polygon points="425.9,166.0 438.1,160.9 455.0,164.7 442.8,169.8" fill="url(#t37)" fill-opacity="0.8"/><path d="M438.1 160.9L438.1 259.4M425.9 264.5L438.1 259.4L455.0 263.2" fill="none" stroke="#241c14" stroke-opacity="0.8" stroke-width="0.6"/><path d="M425.9 166.0L425.9 264.5M442.8 169.8L442.8 268.3M455.0 164.7L455.0 263.2M425.9 166.0L438.1 160.9L455.0 164.7L442.8 169.8ZM425.9 264.5L442.8 268.3L455.0 263.2" fill="none" stroke="#282828" stroke-opacity="0.7" stroke-width="0.55"/></g><use href="#bx37" opacity="0.9" style="mix-blend-mode:multiply"/>
<g id="bx38" opacity="0.66"><polygon points="466.0,148.5 472.4,145.8 490.0,149.8 490.0,249.5 483.6,252.2 466.0,248.2" fill="url(#h38)"/><polygon points="466.0,148.5 472.4,145.8 490.0,149.8 490.0,249.5 483.6,252.2 466.0,248.2" fill="url(#v38)" mask="url(#mk38)"/><polygon points="466.0,248.2 472.4,245.5 490.0,249.5 483.6,252.2" fill="url(#b38)" fill-opacity="0.35"/><polygon points="466.0,248.2 483.6,252.2 486.2,251.1 468.6,247.1" fill="#f4e250" fill-opacity="0.52"/><polygon points="483.6,252.2 490.0,249.5 487.6,248.9 481.2,251.6" fill="#eee660" fill-opacity="0.36"/><polygon points="466.0,148.5 472.4,145.8 490.0,149.8 483.6,152.5" fill="url(#t38)" fill-opacity="0.8"/><path d="M472.4 145.8L472.4 245.5M466.0 248.2L472.4 245.5L490.0 249.5" fill="none" stroke="#241c14" stroke-opacity="0.8" stroke-width="0.6"/><path d="M466.0 148.5L466.0 248.2M483.6 152.5L483.6 252.2M490.0 149.8L490.0 249.5M466.0 148.5L472.4 145.8L490.0 149.8L483.6 152.5ZM466.0 248.2L483.6 252.2L490.0 249.5" fill="none" stroke="#282828" stroke-opacity="0.7" stroke-width="0.55"/></g><use href="#bx38" opacity="0.9" style="mix-blend-mode:multiply"/>
<g id="bx39" opacity="0.66"><polygon points="445.0,169.1 456.8,164.1 474.2,168.0 474.2,187.1 462.4,192.1 445.0,188.2" fill="url(#h39)"/><polygon points="445.0,169.1 456.8,164.1 474.2,168.0 474.2,187.1 462.4,192.1 445.0,188.2" fill="url(#v39)" mask="url(#mk39)"/><polygon points="445.0,188.2 456.8,183.2 474.2,187.1 462.4,192.1" fill="url(#b39)" fill-opacity="0.35"/><polygon points="445.0,188.2 462.4,192.1 465.0,191.0 447.6,187.1" fill="#f4e250" fill-opacity="0.52"/><polygon points="462.4,192.1 474.2,187.1 471.8,186.6 460.0,191.6" fill="#eee660" fill-opacity="0.36"/><polygon points="445.0,169.1 456.8,164.1 474.2,168.0 462.4,173.0" fill="url(#t39)" fill-opacity="0.8"/><path d="M456.8 164.1L456.8 183.2M445.0 188.2L456.8 183.2L474.2 187.1" fill="none" stroke="#241c14" stroke-opacity="0.8" stroke-width="0.6"/><path d="M445.0 169.1L445.0 188.2M462.4 173.0L462.4 192.1M474.2 168.0L474.2 187.1M445.0 169.1L456.8 164.1L474.2 168.0L462.4 173.0ZM445.0 188.2L462.4 192.1L474.2 187.1" fill="none" stroke="#282828" stroke-opacity="0.7" stroke-width="0.55"/></g><use href="#bx39" opacity="0.9" style="mix-blend-mode:multiply"/>
<g id="bx40" opacity="0.66"><polygon points="414.6,244.2 420.1,241.9 429.6,244.0 429.6,252.5 424.1,254.8 414.6,252.7" fill="url(#h40)"/><polygon points="414.6,244.2 420.1,241.9 429.6,244.0 429.6,252.5 424.1,254.8 414.6,252.7" fill="url(#v40)" mask="url(#mk40)"/><polygon points="414.6,252.7 420.1,250.4 429.6,252.5 424.1,254.8" fill="url(#b40)" fill-opacity="0.35"/><polygon points="414.6,252.7 424.1,254.8 426.7,253.7 417.2,251.6" fill="#f4e250" fill-opacity="0.52"/><polygon points="424.1,254.8 429.6,252.5 427.2,252.0 421.7,254.3" fill="#eee660" fill-opacity="0.36"/><polygon points="414.6,244.2 420.1,241.9 429.6,244.0 424.1,246.3" fill="url(#t40)" fill-opacity="0.8"/><path d="M420.1 241.9L420.1 250.4M414.6 252.7L420.1 250.4L429.6 252.5" fill="none" stroke="#241c14" stroke-opacity="0.8" stroke-width="0.6"/><path d="M414.6 244.2L414.6 252.7M424.1 246.3L424.1 254.8M429.6 244.0L429.6 252.5M414.6 244.2L420.1 241.9L429.6 244.0L424.1 246.3ZM414.6 252.7L424.1 254.8L429.6 252.5" fill="none" stroke="#282828" stroke-opacity="0.7" stroke-width="0.55"/></g><use href="#bx40" opacity="0.9" style="mix-blend-mode:multiply"/>
</g>
<g id="paths">
<polyline points="304.5,211.3 322.7,222.7 341.8,230.0 348.5,231.8 360.0,240.0 369.1,245.5 391.8,261.8 402.7,268.2 408.2,271.8" fill="none" stroke="#ff40ff" stroke-width="1.0" stroke-linejoin="round"/>
<polyline points="134.8,81.5 135.5,82.8 136.0,87.8 137.5,89.6 142.5,90.5 145.3,92.8 146.6,96.9 147.5,101.5 148.6,107.3 151.4,116.4 153.2,125.5 155.4,134.5 157.7,143.6 160.5,152.7 162.3,160.0 165.9,171.8 168.5,183.0 171.4,195.5 173.6,206.4 175.5,211.5 178.2,215.1 424.5,269.5 428.0,285.2" fill="none" stroke="#0a0aff" stroke-width="1.4" stroke-linejoin="round"/>
<polyline points="134.6,81.4 265.5,180.2 279.5,191.3 290.0,200.0 299.1,210.0 305.5,216.4 318.2,221.8 322.7,226.4 332.7,229.1 348.5,231.8 360.0,240.0 369.1,245.5 384.5,262.7 395.0,268.0 408.2,271.8 428.0,285.0" fill="none" stroke="#00e000" stroke-width="1.5" stroke-linejoin="round"/>
<polygon points="134.5,78.3 136.9,82.6 132.1,82.6" fill="#ff1a1a"/>
<circle cx="428" cy="285.2" r="1.9" fill="#ffe800"/>
</g>
<g id="labels">
<text x="24.8" y="47.6" text-anchor="end" font-size="8.6" fill="#222" stroke="#222" stroke-width="0.22" >30</text>
<text x="24.8" y="72.7" text-anchor="end" font-size="8.6" fill="#222" stroke="#222" stroke-width="0.22" >25</text>
<text x="24.8" y="97.8" text-anchor="end" font-size="8.6" fill="#222" stroke="#222" stroke-width="0.22" >20</text>
<text x="24.8" y="122.9" text-anchor="end" font-size="8.6" fill="#222" stroke="#222" stroke-width="0.22" >15</text>
<text x="24.8" y="148.0" text-anchor="end" font-size="8.6" fill="#222" stroke="#222" stroke-width="0.22" >10</text>
<text x="24.8" y="173.1" text-anchor="end" font-size="8.6" fill="#222" stroke="#222" stroke-width="0.22" >5</text>
<text x="24.8" y="198.2" text-anchor="end" font-size="8.6" fill="#222" stroke="#222" stroke-width="0.22" >0</text>
<text x="27.0" y="213.1" text-anchor="middle" font-size="8.6" fill="#222" stroke="#222" stroke-width="0.22" >90</text>
<text x="69.7" y="222.6" text-anchor="middle" font-size="8.6" fill="#222" stroke="#222" stroke-width="0.22" >80</text>
<text x="112.4" y="232.0" text-anchor="middle" font-size="8.6" fill="#222" stroke="#222" stroke-width="0.22" >70</text>
<text x="155.1" y="241.5" text-anchor="middle" font-size="8.6" fill="#222" stroke="#222" stroke-width="0.22" >60</text>
<text x="197.8" y="251.0" text-anchor="middle" font-size="8.6" fill="#222" stroke="#222" stroke-width="0.22" >50</text>
<text x="240.5" y="260.5" text-anchor="middle" font-size="8.6" fill="#222" stroke="#222" stroke-width="0.22" >40</text>
<text x="283.2" y="269.9" text-anchor="middle" font-size="8.6" fill="#222" stroke="#222" stroke-width="0.22" >30</text>
<text x="325.9" y="279.4" text-anchor="middle" font-size="8.6" fill="#222" stroke="#222" stroke-width="0.22" >20</text>
<text x="368.6" y="288.9" text-anchor="middle" font-size="8.6" fill="#222" stroke="#222" stroke-width="0.22" >10</text>
<text x="414.0" y="298.3" text-anchor="middle" font-size="8.6" fill="#222" stroke="#222" stroke-width="0.22" >0</text>
<text x="442.6" y="296.8" text-anchor="middle" font-size="8.6" fill="#222" stroke="#222" stroke-width="0.22" >0</text>
<text x="474.4" y="283.6" text-anchor="middle" font-size="8.6" fill="#222" stroke="#222" stroke-width="0.22" >10</text>
<text x="506.2" y="270.4" text-anchor="middle" font-size="8.6" fill="#222" stroke="#222" stroke-width="0.22" >20</text>
<text x="538.0" y="257.2" text-anchor="middle" font-size="8.6" fill="#222" stroke="#222" stroke-width="0.22" >30</text>
<text x="297.3" y="294.0" text-anchor="middle" font-size="8.6" fill="#222" stroke="#222" stroke-width="0.22" >Y</text>
<text x="485.1" y="305.0" text-anchor="middle" font-size="8.6" fill="#222" stroke="#222" stroke-width="0.22" >X</text>
<text transform="translate(8.3,122.3) rotate(-90)" x="0" y="3.1" text-anchor="middle" font-size="8.6" fill="#222" stroke="#222" stroke-width="0.22">Z</text>
</g>
<g id="legend">
<rect x="344" y="25.4" width="130.6" height="33.2" fill="#fff" stroke="#6a6a6a" stroke-width="0.6"/>
<circle cx="352.7" cy="31.9" r="1.5" fill="#ffe800"/>
<polygon points="352.7,40.6 354.2,43.4 351.2,43.4" fill="#ff1a1a"/>
<line x1="345.4" y1="53.2" x2="360" y2="53.2" stroke="#0a0aff" stroke-width="1.2"/>
<line x1="405.4" y1="31.9" x2="420" y2="31.9" stroke="#ff60ff" stroke-width="1"/>
<line x1="405.4" y1="42.3" x2="420" y2="42.3" stroke="#00e000" stroke-width="1.3"/>
<text x="361.0" y="35.0" text-anchor="start" font-size="8.5" fill="#222" stroke="#222" stroke-width="0.22" >start point</text>
<text x="361.0" y="45.4" text-anchor="start" font-size="8.5" fill="#222" stroke="#222" stroke-width="0.22" >goal point</text>
<text x="361.0" y="56.3" text-anchor="start" font-size="8.5" fill="#222" stroke="#222" stroke-width="0.22" >A-star path</text>
<text x="421.0" y="35.0" text-anchor="start" font-size="8.5" fill="#222" stroke="#222" stroke-width="0.22" >JPS path</text>
<text x="421.0" y="45.4" text-anchor="start" font-size="8.5" fill="#222" stroke="#222" stroke-width="0.22" >RJA-star path</text>
</g>
<text x="274" y="322.6" text-anchor="middle" font-family="'Liberation Serif', serif" font-size="14.5" fill="#111">(<tspan font-weight="bold">a</tspan>)</text>
</svg>
</body></html>
